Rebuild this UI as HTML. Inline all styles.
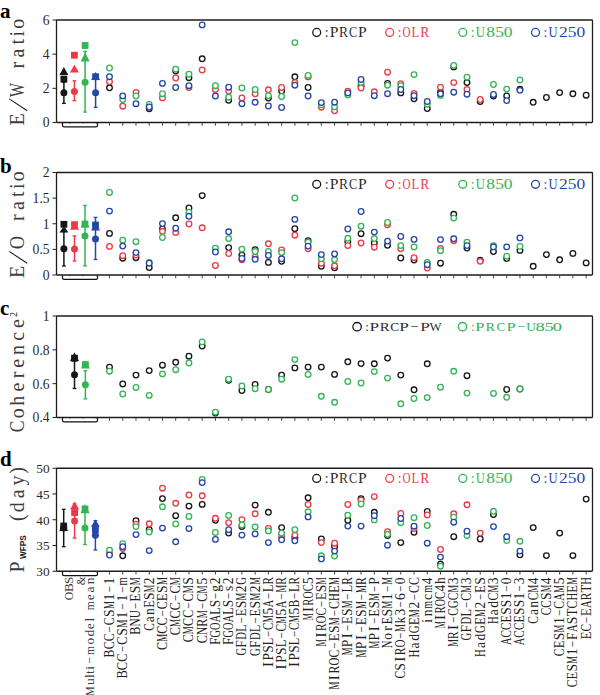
<!DOCTYPE html><html><head><meta charset="utf-8"><style>html,body{margin:0;padding:0;background:#fff;width:600px;height:695px;overflow:hidden}svg{display:block}.s{font-family:"Liberation Serif",serif}.n{font-family:"Liberation Sans",sans-serif}</style></head><body>
<svg width="600" height="695" viewBox="0 0 600 695">
<rect x="56.5" y="20" width="536.0" height="102.5" rx="0.8" fill="none" stroke="#1c1c1c" stroke-width="1.3"/>
<line x1="52.5" y1="122.50" x2="56.5" y2="122.50" stroke="#222" stroke-width="1"/>
<text class="s" x="49.6" y="127.35" font-size="13.6" text-anchor="end" fill="#2a2a2a">0</text>
<line x1="52.5" y1="88.33" x2="56.5" y2="88.33" stroke="#222" stroke-width="1"/>
<text class="s" x="49.6" y="93.18" font-size="13.6" text-anchor="end" fill="#2a2a2a">2</text>
<line x1="52.5" y1="54.17" x2="56.5" y2="54.17" stroke="#222" stroke-width="1"/>
<text class="s" x="49.6" y="59.02" font-size="13.6" text-anchor="end" fill="#2a2a2a">4</text>
<line x1="52.5" y1="20.00" x2="56.5" y2="20.00" stroke="#222" stroke-width="1"/>
<text class="s" x="49.6" y="24.85" font-size="13.6" text-anchor="end" fill="#2a2a2a">6</text>
<line x1="69.78" y1="122.5" x2="69.78" y2="123.7" stroke="#333" stroke-width="0.9"/>
<line x1="83.02" y1="122.5" x2="83.02" y2="123.7" stroke="#333" stroke-width="0.9"/>
<line x1="96.26" y1="122.5" x2="96.26" y2="123.7" stroke="#333" stroke-width="0.9"/>
<line x1="109.50" y1="122.5" x2="109.50" y2="125.8" stroke="#333" stroke-width="0.9"/>
<line x1="122.74" y1="122.5" x2="122.74" y2="125.8" stroke="#333" stroke-width="0.9"/>
<line x1="135.98" y1="122.5" x2="135.98" y2="125.8" stroke="#333" stroke-width="0.9"/>
<line x1="149.22" y1="122.5" x2="149.22" y2="125.8" stroke="#333" stroke-width="0.9"/>
<line x1="162.46" y1="122.5" x2="162.46" y2="125.8" stroke="#333" stroke-width="0.9"/>
<line x1="175.70" y1="122.5" x2="175.70" y2="125.8" stroke="#333" stroke-width="0.9"/>
<line x1="188.94" y1="122.5" x2="188.94" y2="125.8" stroke="#333" stroke-width="0.9"/>
<line x1="202.18" y1="122.5" x2="202.18" y2="125.8" stroke="#333" stroke-width="0.9"/>
<line x1="215.42" y1="122.5" x2="215.42" y2="125.8" stroke="#333" stroke-width="0.9"/>
<line x1="228.66" y1="122.5" x2="228.66" y2="125.8" stroke="#333" stroke-width="0.9"/>
<line x1="241.90" y1="122.5" x2="241.90" y2="125.8" stroke="#333" stroke-width="0.9"/>
<line x1="255.14" y1="122.5" x2="255.14" y2="125.8" stroke="#333" stroke-width="0.9"/>
<line x1="268.38" y1="122.5" x2="268.38" y2="125.8" stroke="#333" stroke-width="0.9"/>
<line x1="281.62" y1="122.5" x2="281.62" y2="125.8" stroke="#333" stroke-width="0.9"/>
<line x1="294.86" y1="122.5" x2="294.86" y2="125.8" stroke="#333" stroke-width="0.9"/>
<line x1="308.10" y1="122.5" x2="308.10" y2="125.8" stroke="#333" stroke-width="0.9"/>
<line x1="321.34" y1="122.5" x2="321.34" y2="125.8" stroke="#333" stroke-width="0.9"/>
<line x1="334.58" y1="122.5" x2="334.58" y2="125.8" stroke="#333" stroke-width="0.9"/>
<line x1="347.82" y1="122.5" x2="347.82" y2="125.8" stroke="#333" stroke-width="0.9"/>
<line x1="361.06" y1="122.5" x2="361.06" y2="125.8" stroke="#333" stroke-width="0.9"/>
<line x1="374.30" y1="122.5" x2="374.30" y2="125.8" stroke="#333" stroke-width="0.9"/>
<line x1="387.54" y1="122.5" x2="387.54" y2="125.8" stroke="#333" stroke-width="0.9"/>
<line x1="400.78" y1="122.5" x2="400.78" y2="125.8" stroke="#333" stroke-width="0.9"/>
<line x1="414.02" y1="122.5" x2="414.02" y2="125.8" stroke="#333" stroke-width="0.9"/>
<line x1="427.26" y1="122.5" x2="427.26" y2="125.8" stroke="#333" stroke-width="0.9"/>
<line x1="440.50" y1="122.5" x2="440.50" y2="125.8" stroke="#333" stroke-width="0.9"/>
<line x1="453.74" y1="122.5" x2="453.74" y2="125.8" stroke="#333" stroke-width="0.9"/>
<line x1="466.98" y1="122.5" x2="466.98" y2="125.8" stroke="#333" stroke-width="0.9"/>
<line x1="480.22" y1="122.5" x2="480.22" y2="125.8" stroke="#333" stroke-width="0.9"/>
<line x1="493.46" y1="122.5" x2="493.46" y2="125.8" stroke="#333" stroke-width="0.9"/>
<line x1="506.70" y1="122.5" x2="506.70" y2="125.8" stroke="#333" stroke-width="0.9"/>
<line x1="519.94" y1="122.5" x2="519.94" y2="125.8" stroke="#333" stroke-width="0.9"/>
<line x1="533.18" y1="122.5" x2="533.18" y2="125.8" stroke="#333" stroke-width="0.9"/>
<line x1="546.42" y1="122.5" x2="546.42" y2="125.8" stroke="#333" stroke-width="0.9"/>
<line x1="559.66" y1="122.5" x2="559.66" y2="125.8" stroke="#333" stroke-width="0.9"/>
<line x1="572.90" y1="122.5" x2="572.90" y2="125.8" stroke="#333" stroke-width="0.9"/>
<line x1="586.14" y1="122.5" x2="586.14" y2="125.8" stroke="#333" stroke-width="0.9"/>
<path d="M62.5 123.0 L62.5 125.5 Q62.5 126.8 64 126.8 L96 126.8 Q97.5 126.8 97.5 125.5 L97.5 123.0" fill="none" stroke="#111" stroke-width="1.2"/>
<rect x="56.5" y="172.5" width="536.0" height="102.5" rx="0.8" fill="none" stroke="#1c1c1c" stroke-width="1.3"/>
<line x1="52.5" y1="275.00" x2="56.5" y2="275.00" stroke="#222" stroke-width="1"/>
<text class="s" x="49.6" y="279.85" font-size="13.6" text-anchor="end" fill="#2a2a2a">0</text>
<line x1="52.5" y1="249.38" x2="56.5" y2="249.38" stroke="#222" stroke-width="1"/>
<text class="s" x="49.6" y="254.22" font-size="13.6" text-anchor="end" fill="#2a2a2a">0.5</text>
<line x1="52.5" y1="223.75" x2="56.5" y2="223.75" stroke="#222" stroke-width="1"/>
<text class="s" x="49.6" y="228.60" font-size="13.6" text-anchor="end" fill="#2a2a2a">1</text>
<line x1="52.5" y1="198.12" x2="56.5" y2="198.12" stroke="#222" stroke-width="1"/>
<text class="s" x="49.6" y="202.97" font-size="13.6" text-anchor="end" fill="#2a2a2a">1.5</text>
<line x1="52.5" y1="172.50" x2="56.5" y2="172.50" stroke="#222" stroke-width="1"/>
<text class="s" x="49.6" y="177.35" font-size="13.6" text-anchor="end" fill="#2a2a2a">2</text>
<line x1="69.78" y1="275" x2="69.78" y2="276.2" stroke="#333" stroke-width="0.9"/>
<line x1="83.02" y1="275" x2="83.02" y2="276.2" stroke="#333" stroke-width="0.9"/>
<line x1="96.26" y1="275" x2="96.26" y2="276.2" stroke="#333" stroke-width="0.9"/>
<line x1="109.50" y1="275" x2="109.50" y2="278.3" stroke="#333" stroke-width="0.9"/>
<line x1="122.74" y1="275" x2="122.74" y2="278.3" stroke="#333" stroke-width="0.9"/>
<line x1="135.98" y1="275" x2="135.98" y2="278.3" stroke="#333" stroke-width="0.9"/>
<line x1="149.22" y1="275" x2="149.22" y2="278.3" stroke="#333" stroke-width="0.9"/>
<line x1="162.46" y1="275" x2="162.46" y2="278.3" stroke="#333" stroke-width="0.9"/>
<line x1="175.70" y1="275" x2="175.70" y2="278.3" stroke="#333" stroke-width="0.9"/>
<line x1="188.94" y1="275" x2="188.94" y2="278.3" stroke="#333" stroke-width="0.9"/>
<line x1="202.18" y1="275" x2="202.18" y2="278.3" stroke="#333" stroke-width="0.9"/>
<line x1="215.42" y1="275" x2="215.42" y2="278.3" stroke="#333" stroke-width="0.9"/>
<line x1="228.66" y1="275" x2="228.66" y2="278.3" stroke="#333" stroke-width="0.9"/>
<line x1="241.90" y1="275" x2="241.90" y2="278.3" stroke="#333" stroke-width="0.9"/>
<line x1="255.14" y1="275" x2="255.14" y2="278.3" stroke="#333" stroke-width="0.9"/>
<line x1="268.38" y1="275" x2="268.38" y2="278.3" stroke="#333" stroke-width="0.9"/>
<line x1="281.62" y1="275" x2="281.62" y2="278.3" stroke="#333" stroke-width="0.9"/>
<line x1="294.86" y1="275" x2="294.86" y2="278.3" stroke="#333" stroke-width="0.9"/>
<line x1="308.10" y1="275" x2="308.10" y2="278.3" stroke="#333" stroke-width="0.9"/>
<line x1="321.34" y1="275" x2="321.34" y2="278.3" stroke="#333" stroke-width="0.9"/>
<line x1="334.58" y1="275" x2="334.58" y2="278.3" stroke="#333" stroke-width="0.9"/>
<line x1="347.82" y1="275" x2="347.82" y2="278.3" stroke="#333" stroke-width="0.9"/>
<line x1="361.06" y1="275" x2="361.06" y2="278.3" stroke="#333" stroke-width="0.9"/>
<line x1="374.30" y1="275" x2="374.30" y2="278.3" stroke="#333" stroke-width="0.9"/>
<line x1="387.54" y1="275" x2="387.54" y2="278.3" stroke="#333" stroke-width="0.9"/>
<line x1="400.78" y1="275" x2="400.78" y2="278.3" stroke="#333" stroke-width="0.9"/>
<line x1="414.02" y1="275" x2="414.02" y2="278.3" stroke="#333" stroke-width="0.9"/>
<line x1="427.26" y1="275" x2="427.26" y2="278.3" stroke="#333" stroke-width="0.9"/>
<line x1="440.50" y1="275" x2="440.50" y2="278.3" stroke="#333" stroke-width="0.9"/>
<line x1="453.74" y1="275" x2="453.74" y2="278.3" stroke="#333" stroke-width="0.9"/>
<line x1="466.98" y1="275" x2="466.98" y2="278.3" stroke="#333" stroke-width="0.9"/>
<line x1="480.22" y1="275" x2="480.22" y2="278.3" stroke="#333" stroke-width="0.9"/>
<line x1="493.46" y1="275" x2="493.46" y2="278.3" stroke="#333" stroke-width="0.9"/>
<line x1="506.70" y1="275" x2="506.70" y2="278.3" stroke="#333" stroke-width="0.9"/>
<line x1="519.94" y1="275" x2="519.94" y2="278.3" stroke="#333" stroke-width="0.9"/>
<line x1="533.18" y1="275" x2="533.18" y2="278.3" stroke="#333" stroke-width="0.9"/>
<line x1="546.42" y1="275" x2="546.42" y2="278.3" stroke="#333" stroke-width="0.9"/>
<line x1="559.66" y1="275" x2="559.66" y2="278.3" stroke="#333" stroke-width="0.9"/>
<line x1="572.90" y1="275" x2="572.90" y2="278.3" stroke="#333" stroke-width="0.9"/>
<line x1="586.14" y1="275" x2="586.14" y2="278.3" stroke="#333" stroke-width="0.9"/>
<path d="M62.5 275.5 L62.5 278 Q62.5 279.3 64 279.3 L96 279.3 Q97.5 279.3 97.5 278 L97.5 275.5" fill="none" stroke="#111" stroke-width="1.2"/>
<rect x="56.5" y="316" width="536.0" height="101.5" rx="0.8" fill="none" stroke="#1c1c1c" stroke-width="1.3"/>
<line x1="52.5" y1="417.50" x2="56.5" y2="417.50" stroke="#222" stroke-width="1"/>
<text class="s" x="49.6" y="422.35" font-size="13.6" text-anchor="end" fill="#2a2a2a">0.4</text>
<line x1="52.5" y1="383.67" x2="56.5" y2="383.67" stroke="#222" stroke-width="1"/>
<text class="s" x="49.6" y="388.52" font-size="13.6" text-anchor="end" fill="#2a2a2a">0.6</text>
<line x1="52.5" y1="349.83" x2="56.5" y2="349.83" stroke="#222" stroke-width="1"/>
<text class="s" x="49.6" y="354.68" font-size="13.6" text-anchor="end" fill="#2a2a2a">0.8</text>
<line x1="52.5" y1="316.00" x2="56.5" y2="316.00" stroke="#222" stroke-width="1"/>
<text class="s" x="49.6" y="320.85" font-size="13.6" text-anchor="end" fill="#2a2a2a">1</text>
<line x1="69.78" y1="417.5" x2="69.78" y2="418.7" stroke="#333" stroke-width="0.9"/>
<line x1="83.02" y1="417.5" x2="83.02" y2="418.7" stroke="#333" stroke-width="0.9"/>
<line x1="96.26" y1="417.5" x2="96.26" y2="418.7" stroke="#333" stroke-width="0.9"/>
<line x1="109.50" y1="417.5" x2="109.50" y2="420.8" stroke="#333" stroke-width="0.9"/>
<line x1="122.74" y1="417.5" x2="122.74" y2="420.8" stroke="#333" stroke-width="0.9"/>
<line x1="135.98" y1="417.5" x2="135.98" y2="420.8" stroke="#333" stroke-width="0.9"/>
<line x1="149.22" y1="417.5" x2="149.22" y2="420.8" stroke="#333" stroke-width="0.9"/>
<line x1="162.46" y1="417.5" x2="162.46" y2="420.8" stroke="#333" stroke-width="0.9"/>
<line x1="175.70" y1="417.5" x2="175.70" y2="420.8" stroke="#333" stroke-width="0.9"/>
<line x1="188.94" y1="417.5" x2="188.94" y2="420.8" stroke="#333" stroke-width="0.9"/>
<line x1="202.18" y1="417.5" x2="202.18" y2="420.8" stroke="#333" stroke-width="0.9"/>
<line x1="215.42" y1="417.5" x2="215.42" y2="420.8" stroke="#333" stroke-width="0.9"/>
<line x1="228.66" y1="417.5" x2="228.66" y2="420.8" stroke="#333" stroke-width="0.9"/>
<line x1="241.90" y1="417.5" x2="241.90" y2="420.8" stroke="#333" stroke-width="0.9"/>
<line x1="255.14" y1="417.5" x2="255.14" y2="420.8" stroke="#333" stroke-width="0.9"/>
<line x1="268.38" y1="417.5" x2="268.38" y2="420.8" stroke="#333" stroke-width="0.9"/>
<line x1="281.62" y1="417.5" x2="281.62" y2="420.8" stroke="#333" stroke-width="0.9"/>
<line x1="294.86" y1="417.5" x2="294.86" y2="420.8" stroke="#333" stroke-width="0.9"/>
<line x1="308.10" y1="417.5" x2="308.10" y2="420.8" stroke="#333" stroke-width="0.9"/>
<line x1="321.34" y1="417.5" x2="321.34" y2="420.8" stroke="#333" stroke-width="0.9"/>
<line x1="334.58" y1="417.5" x2="334.58" y2="420.8" stroke="#333" stroke-width="0.9"/>
<line x1="347.82" y1="417.5" x2="347.82" y2="420.8" stroke="#333" stroke-width="0.9"/>
<line x1="361.06" y1="417.5" x2="361.06" y2="420.8" stroke="#333" stroke-width="0.9"/>
<line x1="374.30" y1="417.5" x2="374.30" y2="420.8" stroke="#333" stroke-width="0.9"/>
<line x1="387.54" y1="417.5" x2="387.54" y2="420.8" stroke="#333" stroke-width="0.9"/>
<line x1="400.78" y1="417.5" x2="400.78" y2="420.8" stroke="#333" stroke-width="0.9"/>
<line x1="414.02" y1="417.5" x2="414.02" y2="420.8" stroke="#333" stroke-width="0.9"/>
<line x1="427.26" y1="417.5" x2="427.26" y2="420.8" stroke="#333" stroke-width="0.9"/>
<line x1="440.50" y1="417.5" x2="440.50" y2="420.8" stroke="#333" stroke-width="0.9"/>
<line x1="453.74" y1="417.5" x2="453.74" y2="420.8" stroke="#333" stroke-width="0.9"/>
<line x1="466.98" y1="417.5" x2="466.98" y2="420.8" stroke="#333" stroke-width="0.9"/>
<line x1="480.22" y1="417.5" x2="480.22" y2="420.8" stroke="#333" stroke-width="0.9"/>
<line x1="493.46" y1="417.5" x2="493.46" y2="420.8" stroke="#333" stroke-width="0.9"/>
<line x1="506.70" y1="417.5" x2="506.70" y2="420.8" stroke="#333" stroke-width="0.9"/>
<line x1="519.94" y1="417.5" x2="519.94" y2="420.8" stroke="#333" stroke-width="0.9"/>
<line x1="533.18" y1="417.5" x2="533.18" y2="420.8" stroke="#333" stroke-width="0.9"/>
<line x1="546.42" y1="417.5" x2="546.42" y2="420.8" stroke="#333" stroke-width="0.9"/>
<line x1="559.66" y1="417.5" x2="559.66" y2="420.8" stroke="#333" stroke-width="0.9"/>
<line x1="572.90" y1="417.5" x2="572.90" y2="420.8" stroke="#333" stroke-width="0.9"/>
<line x1="586.14" y1="417.5" x2="586.14" y2="420.8" stroke="#333" stroke-width="0.9"/>
<path d="M62.5 418.0 L62.5 420.5 Q62.5 421.8 64 421.8 L96 421.8 Q97.5 421.8 97.5 420.5 L97.5 418.0" fill="none" stroke="#111" stroke-width="1.2"/>
<rect x="56.5" y="468.25" width="536.0" height="103.0" rx="0.8" fill="none" stroke="#1c1c1c" stroke-width="1.3"/>
<line x1="52.5" y1="571.25" x2="56.5" y2="571.25" stroke="#222" stroke-width="1"/>
<text class="s" x="49.6" y="576.10" font-size="13.3" text-anchor="end" fill="#2a2a2a">30</text>
<line x1="52.5" y1="545.50" x2="56.5" y2="545.50" stroke="#222" stroke-width="1"/>
<text class="s" x="49.6" y="550.35" font-size="13.3" text-anchor="end" fill="#2a2a2a">35</text>
<line x1="52.5" y1="519.75" x2="56.5" y2="519.75" stroke="#222" stroke-width="1"/>
<text class="s" x="49.6" y="524.60" font-size="13.3" text-anchor="end" fill="#2a2a2a">40</text>
<line x1="52.5" y1="494.00" x2="56.5" y2="494.00" stroke="#222" stroke-width="1"/>
<text class="s" x="49.6" y="498.85" font-size="13.3" text-anchor="end" fill="#2a2a2a">45</text>
<line x1="52.5" y1="468.25" x2="56.5" y2="468.25" stroke="#222" stroke-width="1"/>
<text class="s" x="49.6" y="473.10" font-size="13.3" text-anchor="end" fill="#2a2a2a">50</text>
<line x1="69.78" y1="571.25" x2="69.78" y2="572.45" stroke="#333" stroke-width="0.9"/>
<line x1="83.02" y1="571.25" x2="83.02" y2="572.45" stroke="#333" stroke-width="0.9"/>
<line x1="96.26" y1="571.25" x2="96.26" y2="572.45" stroke="#333" stroke-width="0.9"/>
<line x1="109.50" y1="571.25" x2="109.50" y2="574.55" stroke="#333" stroke-width="0.9"/>
<line x1="122.74" y1="571.25" x2="122.74" y2="574.55" stroke="#333" stroke-width="0.9"/>
<line x1="135.98" y1="571.25" x2="135.98" y2="574.55" stroke="#333" stroke-width="0.9"/>
<line x1="149.22" y1="571.25" x2="149.22" y2="574.55" stroke="#333" stroke-width="0.9"/>
<line x1="162.46" y1="571.25" x2="162.46" y2="574.55" stroke="#333" stroke-width="0.9"/>
<line x1="175.70" y1="571.25" x2="175.70" y2="574.55" stroke="#333" stroke-width="0.9"/>
<line x1="188.94" y1="571.25" x2="188.94" y2="574.55" stroke="#333" stroke-width="0.9"/>
<line x1="202.18" y1="571.25" x2="202.18" y2="574.55" stroke="#333" stroke-width="0.9"/>
<line x1="215.42" y1="571.25" x2="215.42" y2="574.55" stroke="#333" stroke-width="0.9"/>
<line x1="228.66" y1="571.25" x2="228.66" y2="574.55" stroke="#333" stroke-width="0.9"/>
<line x1="241.90" y1="571.25" x2="241.90" y2="574.55" stroke="#333" stroke-width="0.9"/>
<line x1="255.14" y1="571.25" x2="255.14" y2="574.55" stroke="#333" stroke-width="0.9"/>
<line x1="268.38" y1="571.25" x2="268.38" y2="574.55" stroke="#333" stroke-width="0.9"/>
<line x1="281.62" y1="571.25" x2="281.62" y2="574.55" stroke="#333" stroke-width="0.9"/>
<line x1="294.86" y1="571.25" x2="294.86" y2="574.55" stroke="#333" stroke-width="0.9"/>
<line x1="308.10" y1="571.25" x2="308.10" y2="574.55" stroke="#333" stroke-width="0.9"/>
<line x1="321.34" y1="571.25" x2="321.34" y2="574.55" stroke="#333" stroke-width="0.9"/>
<line x1="334.58" y1="571.25" x2="334.58" y2="574.55" stroke="#333" stroke-width="0.9"/>
<line x1="347.82" y1="571.25" x2="347.82" y2="574.55" stroke="#333" stroke-width="0.9"/>
<line x1="361.06" y1="571.25" x2="361.06" y2="574.55" stroke="#333" stroke-width="0.9"/>
<line x1="374.30" y1="571.25" x2="374.30" y2="574.55" stroke="#333" stroke-width="0.9"/>
<line x1="387.54" y1="571.25" x2="387.54" y2="574.55" stroke="#333" stroke-width="0.9"/>
<line x1="400.78" y1="571.25" x2="400.78" y2="574.55" stroke="#333" stroke-width="0.9"/>
<line x1="414.02" y1="571.25" x2="414.02" y2="574.55" stroke="#333" stroke-width="0.9"/>
<line x1="427.26" y1="571.25" x2="427.26" y2="574.55" stroke="#333" stroke-width="0.9"/>
<line x1="440.50" y1="571.25" x2="440.50" y2="574.55" stroke="#333" stroke-width="0.9"/>
<line x1="453.74" y1="571.25" x2="453.74" y2="574.55" stroke="#333" stroke-width="0.9"/>
<line x1="466.98" y1="571.25" x2="466.98" y2="574.55" stroke="#333" stroke-width="0.9"/>
<line x1="480.22" y1="571.25" x2="480.22" y2="574.55" stroke="#333" stroke-width="0.9"/>
<line x1="493.46" y1="571.25" x2="493.46" y2="574.55" stroke="#333" stroke-width="0.9"/>
<line x1="506.70" y1="571.25" x2="506.70" y2="574.55" stroke="#333" stroke-width="0.9"/>
<line x1="519.94" y1="571.25" x2="519.94" y2="574.55" stroke="#333" stroke-width="0.9"/>
<line x1="533.18" y1="571.25" x2="533.18" y2="574.55" stroke="#333" stroke-width="0.9"/>
<line x1="546.42" y1="571.25" x2="546.42" y2="574.55" stroke="#333" stroke-width="0.9"/>
<line x1="559.66" y1="571.25" x2="559.66" y2="574.55" stroke="#333" stroke-width="0.9"/>
<line x1="572.90" y1="571.25" x2="572.90" y2="574.55" stroke="#333" stroke-width="0.9"/>
<line x1="586.14" y1="571.25" x2="586.14" y2="574.55" stroke="#333" stroke-width="0.9"/>
<path d="M62.5 571.75 L62.5 574.25 Q62.5 575.55 64 575.55 L96 575.55 Q97.5 575.55 97.5 574.25 L97.5 571.75" fill="none" stroke="#111" stroke-width="1.2"/>
<text class="s" x="0" y="17.8" font-size="21" font-weight="bold" fill="#000">a</text>
<text class="s" x="0" y="173" font-size="21" font-weight="bold" fill="#000">b</text>
<text class="s" x="0" y="314.6" font-size="21" font-weight="bold" fill="#000">c</text>
<text class="s" x="0" y="466" font-size="21" font-weight="bold" fill="#000">d</text>
<g class="s" font-size="20" fill="#3c3c3c"><text transform="translate(24.40,119.30) rotate(-90)" text-anchor="middle">E</text><text transform="translate(24.40,90.10) rotate(-90) scale(0.740,1)" text-anchor="middle">W</text><text transform="translate(24.40,65.20) rotate(-90)" text-anchor="middle">r</text><text transform="translate(24.40,53.00) rotate(-90)" text-anchor="middle">a</text><text transform="translate(24.40,41.70) rotate(-90)" text-anchor="middle">t</text><text transform="translate(24.40,33.60) rotate(-90)" text-anchor="middle">i</text><text transform="translate(24.40,23.70) rotate(-90)" text-anchor="middle">o</text></g>
<line x1="9.2" y1="98.9" x2="27.2" y2="110.8" stroke="#1a1a1a" stroke-width="1.05"/>
<line x1="9.2" y1="251.4" x2="27.2" y2="263.3" stroke="#1a1a1a" stroke-width="1.05"/>
<g class="s" font-size="20" fill="#3c3c3c"><text transform="translate(24.40,271.80) rotate(-90)" text-anchor="middle">E</text><text transform="translate(24.40,242.60) rotate(-90) scale(0.920,1)" text-anchor="middle">O</text><text transform="translate(24.40,217.70) rotate(-90)" text-anchor="middle">r</text><text transform="translate(24.40,205.50) rotate(-90)" text-anchor="middle">a</text><text transform="translate(24.40,194.20) rotate(-90)" text-anchor="middle">t</text><text transform="translate(24.40,186.10) rotate(-90)" text-anchor="middle">i</text><text transform="translate(24.40,176.20) rotate(-90)" text-anchor="middle">o</text></g>
<g class="s" font-size="20" fill="#3c3c3c"><text transform="translate(24.40,426.50) rotate(-90) scale(0.880,1)" text-anchor="middle">C</text><text transform="translate(24.40,413.30) rotate(-90)" text-anchor="middle">o</text><text transform="translate(24.40,400.80) rotate(-90)" text-anchor="middle">h</text><text transform="translate(24.40,387.00) rotate(-90)" text-anchor="middle">e</text><text transform="translate(24.40,374.80) rotate(-90)" text-anchor="middle">r</text><text transform="translate(24.40,363.30) rotate(-90)" text-anchor="middle">e</text><text transform="translate(24.40,349.90) rotate(-90)" text-anchor="middle">n</text><text transform="translate(24.40,336.40) rotate(-90)" text-anchor="middle">c</text><text transform="translate(24.40,323.50) rotate(-90)" text-anchor="middle">e</text></g>
<text class="s" transform="translate(16.8,314.6) rotate(-90)" font-size="10" text-anchor="middle" fill="#1a1a1a">2</text>
<g class="s" font-size="20" fill="#3c3c3c"><text transform="translate(24.40,517.60) rotate(-90)" text-anchor="middle">(</text><text transform="translate(24.40,507.30) rotate(-90)" text-anchor="middle">d</text><text transform="translate(24.40,493.70) rotate(-90)" text-anchor="middle">a</text><text transform="translate(24.40,480.60) rotate(-90)" text-anchor="middle">y</text><text transform="translate(24.40,470.50) rotate(-90)" text-anchor="middle">)</text></g>
<g class="s" font-size="20" fill="#3c3c3c"><text transform="translate(24.40,567.00) rotate(-90)" text-anchor="middle">P</text></g>
<text class="n" transform="translate(26.4,559) rotate(-90)" font-size="9" font-weight="bold" fill="#1a1a1a" textLength="23.7" lengthAdjust="spacingAndGlyphs">WFPS</text>
<circle cx="316.7" cy="32.4" r="3.95" fill="none" stroke="#161616" stroke-width="1.3"/>
<g class="s" font-size="13.6" fill="#2e2e2e"><text x="326.70" y="36.70" text-anchor="middle">:</text><text transform="translate(334.00,36.70) scale(1.150,1)" text-anchor="middle">P</text><text x="343.50" y="36.70" text-anchor="middle">R</text><text transform="translate(353.10,36.70) scale(0.900,1)" text-anchor="middle">C</text><text transform="translate(362.30,36.70) scale(1.150,1)" text-anchor="middle">P</text></g>
<circle cx="389.7" cy="32.4" r="3.95" fill="none" stroke="#eb3a45" stroke-width="1.3"/>
<g class="s" font-size="13.6" fill="#eb3a45"><text x="399.70" y="36.70" text-anchor="middle">:</text><text transform="translate(406.50,36.70) scale(0.820,1)" text-anchor="middle">O</text><text transform="translate(415.30,36.70) scale(0.920,1)" text-anchor="middle">L</text><text x="424.90" y="36.70" text-anchor="middle">R</text></g>
<circle cx="462.8" cy="32.4" r="3.95" fill="none" stroke="#34b454" stroke-width="1.3"/>
<g class="s" font-size="13.6" fill="#34b454"><text x="472.70" y="36.70" text-anchor="middle">:</text><text transform="translate(480.40,36.70) scale(0.930,1)" text-anchor="middle">U</text><text transform="translate(490.60,36.70) scale(1.280,1)" text-anchor="middle">8</text><text transform="translate(499.50,36.70) scale(1.280,1)" text-anchor="middle">5</text><text transform="translate(508.10,36.70) scale(1.280,1)" text-anchor="middle">0</text></g>
<circle cx="535.5" cy="32.4" r="3.95" fill="none" stroke="#2547a6" stroke-width="1.3"/>
<g class="s" font-size="13.6" fill="#2547a6"><text x="545.40" y="36.70" text-anchor="middle">:</text><text transform="translate(553.10,36.70) scale(0.930,1)" text-anchor="middle">U</text><text transform="translate(563.30,36.70) scale(1.280,1)" text-anchor="middle">2</text><text transform="translate(572.20,36.70) scale(1.280,1)" text-anchor="middle">5</text><text transform="translate(580.80,36.70) scale(1.280,1)" text-anchor="middle">0</text></g>
<circle cx="316.7" cy="184.3" r="3.95" fill="none" stroke="#161616" stroke-width="1.3"/>
<g class="s" font-size="13.6" fill="#2e2e2e"><text x="326.70" y="188.60" text-anchor="middle">:</text><text transform="translate(334.00,188.60) scale(1.150,1)" text-anchor="middle">P</text><text x="343.50" y="188.60" text-anchor="middle">R</text><text transform="translate(353.10,188.60) scale(0.900,1)" text-anchor="middle">C</text><text transform="translate(362.30,188.60) scale(1.150,1)" text-anchor="middle">P</text></g>
<circle cx="389.7" cy="184.3" r="3.95" fill="none" stroke="#eb3a45" stroke-width="1.3"/>
<g class="s" font-size="13.6" fill="#eb3a45"><text x="399.70" y="188.60" text-anchor="middle">:</text><text transform="translate(406.50,188.60) scale(0.820,1)" text-anchor="middle">O</text><text transform="translate(415.30,188.60) scale(0.920,1)" text-anchor="middle">L</text><text x="424.90" y="188.60" text-anchor="middle">R</text></g>
<circle cx="462.8" cy="184.3" r="3.95" fill="none" stroke="#34b454" stroke-width="1.3"/>
<g class="s" font-size="13.6" fill="#34b454"><text x="472.70" y="188.60" text-anchor="middle">:</text><text transform="translate(480.40,188.60) scale(0.930,1)" text-anchor="middle">U</text><text transform="translate(490.60,188.60) scale(1.280,1)" text-anchor="middle">8</text><text transform="translate(499.50,188.60) scale(1.280,1)" text-anchor="middle">5</text><text transform="translate(508.10,188.60) scale(1.280,1)" text-anchor="middle">0</text></g>
<circle cx="535.5" cy="184.3" r="3.95" fill="none" stroke="#2547a6" stroke-width="1.3"/>
<g class="s" font-size="13.6" fill="#2547a6"><text x="545.40" y="188.60" text-anchor="middle">:</text><text transform="translate(553.10,188.60) scale(0.930,1)" text-anchor="middle">U</text><text transform="translate(563.30,188.60) scale(1.280,1)" text-anchor="middle">2</text><text transform="translate(572.20,188.60) scale(1.280,1)" text-anchor="middle">5</text><text transform="translate(580.80,188.60) scale(1.280,1)" text-anchor="middle">0</text></g>
<circle cx="316.7" cy="478.4" r="3.95" fill="none" stroke="#161616" stroke-width="1.3"/>
<g class="s" font-size="13.6" fill="#2e2e2e"><text x="326.70" y="482.70" text-anchor="middle">:</text><text transform="translate(334.00,482.70) scale(1.150,1)" text-anchor="middle">P</text><text x="343.50" y="482.70" text-anchor="middle">R</text><text transform="translate(353.10,482.70) scale(0.900,1)" text-anchor="middle">C</text><text transform="translate(362.30,482.70) scale(1.150,1)" text-anchor="middle">P</text></g>
<circle cx="389.7" cy="478.4" r="3.95" fill="none" stroke="#eb3a45" stroke-width="1.3"/>
<g class="s" font-size="13.6" fill="#eb3a45"><text x="399.70" y="482.70" text-anchor="middle">:</text><text transform="translate(406.50,482.70) scale(0.820,1)" text-anchor="middle">O</text><text transform="translate(415.30,482.70) scale(0.920,1)" text-anchor="middle">L</text><text x="424.90" y="482.70" text-anchor="middle">R</text></g>
<circle cx="462.8" cy="478.4" r="3.95" fill="none" stroke="#34b454" stroke-width="1.3"/>
<g class="s" font-size="13.6" fill="#34b454"><text x="472.70" y="482.70" text-anchor="middle">:</text><text transform="translate(480.40,482.70) scale(0.930,1)" text-anchor="middle">U</text><text transform="translate(490.60,482.70) scale(1.280,1)" text-anchor="middle">8</text><text transform="translate(499.50,482.70) scale(1.280,1)" text-anchor="middle">5</text><text transform="translate(508.10,482.70) scale(1.280,1)" text-anchor="middle">0</text></g>
<circle cx="535.5" cy="478.4" r="3.95" fill="none" stroke="#2547a6" stroke-width="1.3"/>
<g class="s" font-size="13.6" fill="#2547a6"><text x="545.40" y="482.70" text-anchor="middle">:</text><text transform="translate(553.10,482.70) scale(0.930,1)" text-anchor="middle">U</text><text transform="translate(563.30,482.70) scale(1.280,1)" text-anchor="middle">2</text><text transform="translate(572.20,482.70) scale(1.280,1)" text-anchor="middle">5</text><text transform="translate(580.80,482.70) scale(1.280,1)" text-anchor="middle">0</text></g>
<circle cx="357.1" cy="326.7" r="4.2" fill="none" stroke="#161616" stroke-width="1.3"/>
<g class="s" font-size="13.4" fill="#2e2e2e"><text x="367.20" y="331.00" text-anchor="middle">:</text><text transform="translate(374.30,331.00) scale(1.288,1)" text-anchor="middle">P</text><text transform="translate(384.70,331.00) scale(1.120,1)" text-anchor="middle">R</text><text transform="translate(394.70,331.00) scale(1.008,1)" text-anchor="middle">C</text><text transform="translate(404.10,331.00) scale(1.288,1)" text-anchor="middle">P</text><text transform="translate(414.60,331.00) scale(1.064,1)" text-anchor="middle">−</text><text transform="translate(425.00,331.00) scale(1.288,1)" text-anchor="middle">P</text><text transform="translate(435.40,331.00) scale(0.952,1)" text-anchor="middle">W</text></g>
<circle cx="462.5" cy="326.7" r="4.2" fill="none" stroke="#34b454" stroke-width="1.3"/>
<g class="s" font-size="13.4" fill="#34b454"><text x="472.80" y="331.00" text-anchor="middle">:</text><text transform="translate(480.00,331.00) scale(1.242,1)" text-anchor="middle">P</text><text transform="translate(490.40,331.00) scale(1.080,1)" text-anchor="middle">R</text><text transform="translate(500.80,331.00) scale(0.972,1)" text-anchor="middle">C</text><text transform="translate(511.20,331.00) scale(1.242,1)" text-anchor="middle">P</text><text transform="translate(521.40,331.00) scale(1.026,1)" text-anchor="middle">−</text><text transform="translate(531.00,331.00) scale(1.004,1)" text-anchor="middle">U</text><text transform="translate(540.00,331.00) scale(1.382,1)" text-anchor="middle">8</text><text transform="translate(549.00,331.00) scale(1.382,1)" text-anchor="middle">5</text><text transform="translate(557.40,331.00) scale(1.382,1)" text-anchor="middle">0</text></g>
<g class="s" font-size="13.6" fill="#222" ><text transform="translate(114.00,653.48) rotate(-90) scale(0.870,1)" text-anchor="middle">B</text><text transform="translate(114.00,645.42) rotate(-90) scale(0.870,1)" text-anchor="middle">C</text><text transform="translate(114.00,637.38) rotate(-90) scale(0.870,1)" text-anchor="middle">C</text><text transform="translate(114.00,629.33) rotate(-90) scale(0.800,1)" text-anchor="middle">−</text><text transform="translate(114.00,621.27) rotate(-90) scale(0.870,1)" text-anchor="middle">C</text><text transform="translate(114.00,613.23) rotate(-90)" text-anchor="middle">S</text><text transform="translate(114.00,605.17) rotate(-90) scale(0.652,1)" text-anchor="middle">M</text><text transform="translate(114.00,597.12) rotate(-90)" text-anchor="middle">1</text><text transform="translate(114.00,589.08) rotate(-90) scale(0.800,1)" text-anchor="middle">−</text><text transform="translate(114.00,581.02) rotate(-90)" text-anchor="middle">1</text></g>
<g class="s" font-size="13.6" fill="#222" ><text transform="translate(127.24,674.46) rotate(-90) scale(0.916,1)" text-anchor="middle">B</text><text transform="translate(127.24,665.99) rotate(-90) scale(0.916,1)" text-anchor="middle">C</text><text transform="translate(127.24,657.51) rotate(-90) scale(0.916,1)" text-anchor="middle">C</text><text transform="translate(127.24,649.04) rotate(-90) scale(0.800,1)" text-anchor="middle">−</text><text transform="translate(127.24,640.56) rotate(-90) scale(0.916,1)" text-anchor="middle">C</text><text transform="translate(127.24,632.09) rotate(-90)" text-anchor="middle">S</text><text transform="translate(127.24,623.61) rotate(-90) scale(0.687,1)" text-anchor="middle">M</text><text transform="translate(127.24,615.14) rotate(-90)" text-anchor="middle">1</text><text transform="translate(127.24,606.66) rotate(-90) scale(0.800,1)" text-anchor="middle">−</text><text transform="translate(127.24,598.19) rotate(-90)" text-anchor="middle">1</text><text transform="translate(127.24,589.71) rotate(-90) scale(0.800,1)" text-anchor="middle">−</text><text transform="translate(127.24,581.24) rotate(-90) scale(0.785,1)" text-anchor="middle">m</text></g>
<g class="s" font-size="13.6" fill="#222" ><text transform="translate(140.48,630.67) rotate(-90) scale(0.892,1)" text-anchor="middle">B</text><text transform="translate(140.48,622.41) rotate(-90) scale(0.824,1)" text-anchor="middle">N</text><text transform="translate(140.48,614.16) rotate(-90) scale(0.824,1)" text-anchor="middle">U</text><text transform="translate(140.48,605.90) rotate(-90) scale(0.800,1)" text-anchor="middle">−</text><text transform="translate(140.48,597.64) rotate(-90) scale(0.974,1)" text-anchor="middle">E</text><text transform="translate(140.48,589.39) rotate(-90)" text-anchor="middle">S</text><text transform="translate(140.48,581.13) rotate(-90) scale(0.669,1)" text-anchor="middle">M</text></g>
<g class="s" font-size="13.6" fill="#222" ><text transform="translate(153.72,627.05) rotate(-90) scale(0.832,1)" text-anchor="middle">C</text><text transform="translate(153.72,619.35) rotate(-90)" text-anchor="middle">a</text><text transform="translate(153.72,611.65) rotate(-90)" text-anchor="middle">n</text><text transform="translate(153.72,603.95) rotate(-90) scale(0.908,1)" text-anchor="middle">E</text><text transform="translate(153.72,596.25) rotate(-90) scale(0.998,1)" text-anchor="middle">S</text><text transform="translate(153.72,588.55) rotate(-90) scale(0.624,1)" text-anchor="middle">M</text><text transform="translate(153.72,580.85) rotate(-90)" text-anchor="middle">2</text></g>
<g class="s" font-size="13.6" fill="#222" ><text transform="translate(166.96,645.94) rotate(-90) scale(0.876,1)" text-anchor="middle">C</text><text transform="translate(166.96,637.83) rotate(-90) scale(0.657,1)" text-anchor="middle">M</text><text transform="translate(166.96,629.72) rotate(-90) scale(0.876,1)" text-anchor="middle">C</text><text transform="translate(166.96,621.61) rotate(-90) scale(0.876,1)" text-anchor="middle">C</text><text transform="translate(166.96,613.50) rotate(-90) scale(0.800,1)" text-anchor="middle">−</text><text transform="translate(166.96,605.39) rotate(-90) scale(0.876,1)" text-anchor="middle">C</text><text transform="translate(166.96,597.28) rotate(-90) scale(0.957,1)" text-anchor="middle">E</text><text transform="translate(166.96,589.17) rotate(-90)" text-anchor="middle">S</text><text transform="translate(166.96,581.06) rotate(-90) scale(0.657,1)" text-anchor="middle">M</text></g>
<g class="s" font-size="13.6" fill="#222" ><text transform="translate(180.20,631.14) rotate(-90) scale(0.900,1)" text-anchor="middle">C</text><text transform="translate(180.20,622.81) rotate(-90) scale(0.675,1)" text-anchor="middle">M</text><text transform="translate(180.20,614.48) rotate(-90) scale(0.900,1)" text-anchor="middle">C</text><text transform="translate(180.20,606.15) rotate(-90) scale(0.900,1)" text-anchor="middle">C</text><text transform="translate(180.20,597.82) rotate(-90) scale(0.800,1)" text-anchor="middle">−</text><text transform="translate(180.20,589.49) rotate(-90) scale(0.900,1)" text-anchor="middle">C</text><text transform="translate(180.20,581.16) rotate(-90) scale(0.675,1)" text-anchor="middle">M</text></g>
<g class="s" font-size="13.6" fill="#222" ><text transform="translate(193.44,638.31) rotate(-90) scale(0.883,1)" text-anchor="middle">C</text><text transform="translate(193.44,630.14) rotate(-90) scale(0.663,1)" text-anchor="middle">M</text><text transform="translate(193.44,621.96) rotate(-90) scale(0.883,1)" text-anchor="middle">C</text><text transform="translate(193.44,613.79) rotate(-90) scale(0.883,1)" text-anchor="middle">C</text><text transform="translate(193.44,605.61) rotate(-90) scale(0.800,1)" text-anchor="middle">−</text><text transform="translate(193.44,597.44) rotate(-90) scale(0.883,1)" text-anchor="middle">C</text><text transform="translate(193.44,589.26) rotate(-90) scale(0.663,1)" text-anchor="middle">M</text><text transform="translate(193.44,581.09) rotate(-90)" text-anchor="middle">S</text></g>
<g class="s" font-size="13.6" fill="#222" ><text transform="translate(206.68,639.16) rotate(-90) scale(0.895,1)" text-anchor="middle">C</text><text transform="translate(206.68,630.87) rotate(-90) scale(0.827,1)" text-anchor="middle">N</text><text transform="translate(206.68,622.58) rotate(-90) scale(0.895,1)" text-anchor="middle">R</text><text transform="translate(206.68,614.29) rotate(-90) scale(0.672,1)" text-anchor="middle">M</text><text transform="translate(206.68,606.01) rotate(-90) scale(0.800,1)" text-anchor="middle">−</text><text transform="translate(206.68,597.72) rotate(-90) scale(0.895,1)" text-anchor="middle">C</text><text transform="translate(206.68,589.43) rotate(-90) scale(0.672,1)" text-anchor="middle">M</text><text transform="translate(206.68,581.14) rotate(-90)" text-anchor="middle">5</text></g>
<g class="s" font-size="13.6" fill="#222" ><text transform="translate(219.92,641.32) rotate(-90) scale(0.980,1)" text-anchor="middle">F</text><text transform="translate(219.92,633.75) rotate(-90) scale(0.755,1)" text-anchor="middle">G</text><text transform="translate(219.92,626.18) rotate(-90) scale(0.755,1)" text-anchor="middle">O</text><text transform="translate(219.92,618.62) rotate(-90) scale(0.755,1)" text-anchor="middle">A</text><text transform="translate(219.92,611.05) rotate(-90) scale(0.893,1)" text-anchor="middle">L</text><text transform="translate(219.92,603.48) rotate(-90) scale(0.980,1)" text-anchor="middle">S</text><text transform="translate(219.92,595.92) rotate(-90) scale(0.800,1)" text-anchor="middle">−</text><text transform="translate(219.92,588.35) rotate(-90)" text-anchor="middle">g</text><text transform="translate(219.92,580.78) rotate(-90)" text-anchor="middle">2</text></g>
<g class="s" font-size="13.6" fill="#222" ><text transform="translate(233.16,641.32) rotate(-90) scale(0.980,1)" text-anchor="middle">F</text><text transform="translate(233.16,633.75) rotate(-90) scale(0.755,1)" text-anchor="middle">G</text><text transform="translate(233.16,626.18) rotate(-90) scale(0.755,1)" text-anchor="middle">O</text><text transform="translate(233.16,618.62) rotate(-90) scale(0.755,1)" text-anchor="middle">A</text><text transform="translate(233.16,611.05) rotate(-90) scale(0.893,1)" text-anchor="middle">L</text><text transform="translate(233.16,603.48) rotate(-90) scale(0.980,1)" text-anchor="middle">S</text><text transform="translate(233.16,595.92) rotate(-90) scale(0.800,1)" text-anchor="middle">−</text><text transform="translate(233.16,588.35) rotate(-90)" text-anchor="middle">s</text><text transform="translate(233.16,580.78) rotate(-90)" text-anchor="middle">2</text></g>
<g class="s" font-size="13.6" fill="#222" ><text transform="translate(246.40,651.76) rotate(-90) scale(0.785,1)" text-anchor="middle">G</text><text transform="translate(246.40,643.89) rotate(-90)" text-anchor="middle">F</text><text transform="translate(246.40,636.02) rotate(-90) scale(0.785,1)" text-anchor="middle">D</text><text transform="translate(246.40,628.15) rotate(-90) scale(0.928,1)" text-anchor="middle">L</text><text transform="translate(246.40,620.28) rotate(-90) scale(0.800,1)" text-anchor="middle">−</text><text transform="translate(246.40,612.41) rotate(-90) scale(0.928,1)" text-anchor="middle">E</text><text transform="translate(246.40,604.54) rotate(-90)" text-anchor="middle">S</text><text transform="translate(246.40,596.67) rotate(-90) scale(0.638,1)" text-anchor="middle">M</text><text transform="translate(246.40,588.80) rotate(-90)" text-anchor="middle">2</text><text transform="translate(246.40,580.93) rotate(-90) scale(0.785,1)" text-anchor="middle">G</text></g>
<g class="s" font-size="13.6" fill="#222" ><text transform="translate(259.64,652.05) rotate(-90) scale(0.788,1)" text-anchor="middle">G</text><text transform="translate(259.64,644.15) rotate(-90)" text-anchor="middle">F</text><text transform="translate(259.64,636.25) rotate(-90) scale(0.788,1)" text-anchor="middle">D</text><text transform="translate(259.64,628.35) rotate(-90) scale(0.932,1)" text-anchor="middle">L</text><text transform="translate(259.64,620.45) rotate(-90) scale(0.800,1)" text-anchor="middle">−</text><text transform="translate(259.64,612.55) rotate(-90) scale(0.932,1)" text-anchor="middle">E</text><text transform="translate(259.64,604.65) rotate(-90)" text-anchor="middle">S</text><text transform="translate(259.64,596.75) rotate(-90) scale(0.640,1)" text-anchor="middle">M</text><text transform="translate(259.64,588.85) rotate(-90)" text-anchor="middle">2</text><text transform="translate(259.64,580.95) rotate(-90) scale(0.640,1)" text-anchor="middle">M</text></g>
<g class="s" font-size="13.6" fill="#222" ><text transform="translate(272.88,664.30) rotate(-90) scale(1.150,1)" text-anchor="middle">I</text><text transform="translate(272.88,656.71) rotate(-90) scale(0.984,1)" text-anchor="middle">P</text><text transform="translate(272.88,649.12) rotate(-90) scale(0.984,1)" text-anchor="middle">S</text><text transform="translate(272.88,641.53) rotate(-90) scale(0.896,1)" text-anchor="middle">L</text><text transform="translate(272.88,633.94) rotate(-90) scale(0.800,1)" text-anchor="middle">−</text><text transform="translate(272.88,626.35) rotate(-90) scale(0.820,1)" text-anchor="middle">C</text><text transform="translate(272.88,618.75) rotate(-90) scale(0.615,1)" text-anchor="middle">M</text><text transform="translate(272.88,611.16) rotate(-90)" text-anchor="middle">5</text><text transform="translate(272.88,603.57) rotate(-90) scale(0.758,1)" text-anchor="middle">A</text><text transform="translate(272.88,595.98) rotate(-90) scale(0.800,1)" text-anchor="middle">−</text><text transform="translate(272.88,588.39) rotate(-90) scale(0.896,1)" text-anchor="middle">L</text><text transform="translate(272.88,580.80) rotate(-90) scale(0.820,1)" text-anchor="middle">R</text></g>
<g class="s" font-size="13.6" fill="#222" ><text transform="translate(286.12,666.80) rotate(-90) scale(1.150,1)" text-anchor="middle">I</text><text transform="translate(286.12,658.99) rotate(-90)" text-anchor="middle">P</text><text transform="translate(286.12,651.18) rotate(-90)" text-anchor="middle">S</text><text transform="translate(286.12,643.37) rotate(-90) scale(0.921,1)" text-anchor="middle">L</text><text transform="translate(286.12,635.56) rotate(-90) scale(0.800,1)" text-anchor="middle">−</text><text transform="translate(286.12,627.75) rotate(-90) scale(0.844,1)" text-anchor="middle">C</text><text transform="translate(286.12,619.95) rotate(-90) scale(0.633,1)" text-anchor="middle">M</text><text transform="translate(286.12,612.14) rotate(-90)" text-anchor="middle">5</text><text transform="translate(286.12,604.33) rotate(-90) scale(0.779,1)" text-anchor="middle">A</text><text transform="translate(286.12,596.52) rotate(-90) scale(0.800,1)" text-anchor="middle">−</text><text transform="translate(286.12,588.71) rotate(-90) scale(0.633,1)" text-anchor="middle">M</text><text transform="translate(286.12,580.90) rotate(-90) scale(0.844,1)" text-anchor="middle">R</text></g>
<g class="s" font-size="13.6" fill="#222" ><text transform="translate(299.36,664.30) rotate(-90) scale(1.150,1)" text-anchor="middle">I</text><text transform="translate(299.36,656.71) rotate(-90) scale(0.984,1)" text-anchor="middle">P</text><text transform="translate(299.36,649.12) rotate(-90) scale(0.984,1)" text-anchor="middle">S</text><text transform="translate(299.36,641.53) rotate(-90) scale(0.896,1)" text-anchor="middle">L</text><text transform="translate(299.36,633.94) rotate(-90) scale(0.800,1)" text-anchor="middle">−</text><text transform="translate(299.36,626.35) rotate(-90) scale(0.820,1)" text-anchor="middle">C</text><text transform="translate(299.36,618.75) rotate(-90) scale(0.615,1)" text-anchor="middle">M</text><text transform="translate(299.36,611.16) rotate(-90)" text-anchor="middle">5</text><text transform="translate(299.36,603.57) rotate(-90) scale(0.820,1)" text-anchor="middle">B</text><text transform="translate(299.36,595.98) rotate(-90) scale(0.800,1)" text-anchor="middle">−</text><text transform="translate(299.36,588.39) rotate(-90) scale(0.896,1)" text-anchor="middle">L</text><text transform="translate(299.36,580.80) rotate(-90) scale(0.820,1)" text-anchor="middle">R</text></g>
<g class="s" font-size="13.6" fill="#222" ><text transform="translate(312.60,616.69) rotate(-90) scale(0.585,1)" text-anchor="middle">M</text><text transform="translate(312.60,609.48) rotate(-90) scale(1.150,1)" text-anchor="middle">I</text><text transform="translate(312.60,602.26) rotate(-90) scale(0.780,1)" text-anchor="middle">R</text><text transform="translate(312.60,595.04) rotate(-90) scale(0.720,1)" text-anchor="middle">O</text><text transform="translate(312.60,587.83) rotate(-90) scale(0.780,1)" text-anchor="middle">C</text><text transform="translate(312.60,580.61) rotate(-90)" text-anchor="middle">5</text></g>
<g class="s" font-size="13.6" fill="#222" ><text transform="translate(325.84,642.64) rotate(-90) scale(0.626,1)" text-anchor="middle">M</text><text transform="translate(325.84,634.92) rotate(-90) scale(1.150,1)" text-anchor="middle">I</text><text transform="translate(325.84,627.19) rotate(-90) scale(0.834,1)" text-anchor="middle">R</text><text transform="translate(325.84,619.47) rotate(-90) scale(0.771,1)" text-anchor="middle">O</text><text transform="translate(325.84,611.75) rotate(-90) scale(0.834,1)" text-anchor="middle">C</text><text transform="translate(325.84,604.03) rotate(-90) scale(0.800,1)" text-anchor="middle">−</text><text transform="translate(325.84,596.31) rotate(-90) scale(0.911,1)" text-anchor="middle">E</text><text transform="translate(325.84,588.58) rotate(-90)" text-anchor="middle">S</text><text transform="translate(325.84,580.86) rotate(-90) scale(0.626,1)" text-anchor="middle">M</text></g>
<g class="s" font-size="13.6" fill="#222" ><text transform="translate(339.08,685.67) rotate(-90) scale(0.652,1)" text-anchor="middle">M</text><text transform="translate(339.08,677.62) rotate(-90) scale(1.150,1)" text-anchor="middle">I</text><text transform="translate(339.08,669.58) rotate(-90) scale(0.870,1)" text-anchor="middle">R</text><text transform="translate(339.08,661.52) rotate(-90) scale(0.803,1)" text-anchor="middle">O</text><text transform="translate(339.08,653.48) rotate(-90) scale(0.870,1)" text-anchor="middle">C</text><text transform="translate(339.08,645.42) rotate(-90) scale(0.800,1)" text-anchor="middle">−</text><text transform="translate(339.08,637.38) rotate(-90) scale(0.950,1)" text-anchor="middle">E</text><text transform="translate(339.08,629.33) rotate(-90)" text-anchor="middle">S</text><text transform="translate(339.08,621.27) rotate(-90) scale(0.652,1)" text-anchor="middle">M</text><text transform="translate(339.08,613.23) rotate(-90) scale(0.800,1)" text-anchor="middle">−</text><text transform="translate(339.08,605.17) rotate(-90) scale(0.870,1)" text-anchor="middle">C</text><text transform="translate(339.08,597.12) rotate(-90) scale(0.803,1)" text-anchor="middle">H</text><text transform="translate(339.08,589.08) rotate(-90) scale(0.950,1)" text-anchor="middle">E</text><text transform="translate(339.08,581.02) rotate(-90) scale(0.652,1)" text-anchor="middle">M</text></g>
<g class="s" font-size="13.6" fill="#222" ><text transform="translate(352.32,651.38) rotate(-90) scale(0.635,1)" text-anchor="middle">M</text><text transform="translate(352.32,643.56) rotate(-90)" text-anchor="middle">P</text><text transform="translate(352.32,635.73) rotate(-90) scale(1.150,1)" text-anchor="middle">I</text><text transform="translate(352.32,627.89) rotate(-90) scale(0.800,1)" text-anchor="middle">−</text><text transform="translate(352.32,620.07) rotate(-90) scale(0.924,1)" text-anchor="middle">E</text><text transform="translate(352.32,612.24) rotate(-90)" text-anchor="middle">S</text><text transform="translate(352.32,604.40) rotate(-90) scale(0.635,1)" text-anchor="middle">M</text><text transform="translate(352.32,596.58) rotate(-90) scale(0.800,1)" text-anchor="middle">−</text><text transform="translate(352.32,588.75) rotate(-90) scale(0.924,1)" text-anchor="middle">L</text><text transform="translate(352.32,580.91) rotate(-90) scale(0.846,1)" text-anchor="middle">R</text></g>
<g class="s" font-size="13.6" fill="#222" ><text transform="translate(365.56,653.48) rotate(-90) scale(0.652,1)" text-anchor="middle">M</text><text transform="translate(365.56,645.42) rotate(-90)" text-anchor="middle">P</text><text transform="translate(365.56,637.38) rotate(-90) scale(1.150,1)" text-anchor="middle">I</text><text transform="translate(365.56,629.33) rotate(-90) scale(0.800,1)" text-anchor="middle">−</text><text transform="translate(365.56,621.27) rotate(-90) scale(0.950,1)" text-anchor="middle">E</text><text transform="translate(365.56,613.23) rotate(-90)" text-anchor="middle">S</text><text transform="translate(365.56,605.17) rotate(-90) scale(0.652,1)" text-anchor="middle">M</text><text transform="translate(365.56,597.12) rotate(-90) scale(0.800,1)" text-anchor="middle">−</text><text transform="translate(365.56,589.08) rotate(-90) scale(0.652,1)" text-anchor="middle">M</text><text transform="translate(365.56,581.02) rotate(-90) scale(0.870,1)" text-anchor="middle">R</text></g>
<g class="s" font-size="13.6" fill="#222" ><text transform="translate(378.80,644.62) rotate(-90) scale(0.645,1)" text-anchor="middle">M</text><text transform="translate(378.80,636.67) rotate(-90)" text-anchor="middle">P</text><text transform="translate(378.80,628.71) rotate(-90) scale(1.150,1)" text-anchor="middle">I</text><text transform="translate(378.80,620.76) rotate(-90) scale(0.800,1)" text-anchor="middle">−</text><text transform="translate(378.80,612.80) rotate(-90) scale(0.938,1)" text-anchor="middle">E</text><text transform="translate(378.80,604.84) rotate(-90)" text-anchor="middle">S</text><text transform="translate(378.80,596.89) rotate(-90) scale(0.645,1)" text-anchor="middle">M</text><text transform="translate(378.80,588.93) rotate(-90) scale(0.800,1)" text-anchor="middle">−</text><text transform="translate(378.80,580.98) rotate(-90)" text-anchor="middle">P</text></g>
<g class="s" font-size="13.6" fill="#222" ><text transform="translate(392.04,644.34) rotate(-90) scale(0.790,1)" text-anchor="middle">N</text><text transform="translate(392.04,636.42) rotate(-90)" text-anchor="middle">o</text><text transform="translate(392.04,628.49) rotate(-90)" text-anchor="middle">r</text><text transform="translate(392.04,620.57) rotate(-90) scale(0.935,1)" text-anchor="middle">E</text><text transform="translate(392.04,612.65) rotate(-90)" text-anchor="middle">S</text><text transform="translate(392.04,604.73) rotate(-90) scale(0.642,1)" text-anchor="middle">M</text><text transform="translate(392.04,596.81) rotate(-90)" text-anchor="middle">1</text><text transform="translate(392.04,588.88) rotate(-90) scale(0.800,1)" text-anchor="middle">−</text><text transform="translate(392.04,580.96) rotate(-90) scale(0.642,1)" text-anchor="middle">M</text></g>
<g class="s" font-size="13.6" fill="#222" ><text transform="translate(405.28,674.79) rotate(-90) scale(0.845,1)" text-anchor="middle">C</text><text transform="translate(405.28,666.97) rotate(-90)" text-anchor="middle">S</text><text transform="translate(405.28,659.14) rotate(-90) scale(1.150,1)" text-anchor="middle">I</text><text transform="translate(405.28,651.32) rotate(-90) scale(0.845,1)" text-anchor="middle">R</text><text transform="translate(405.28,643.50) rotate(-90) scale(0.781,1)" text-anchor="middle">O</text><text transform="translate(405.28,635.67) rotate(-90) scale(0.800,1)" text-anchor="middle">−</text><text transform="translate(405.28,627.85) rotate(-90) scale(0.634,1)" text-anchor="middle">M</text><text transform="translate(405.28,620.03) rotate(-90)" text-anchor="middle">k</text><text transform="translate(405.28,612.20) rotate(-90)" text-anchor="middle">3</text><text transform="translate(405.28,604.38) rotate(-90) scale(0.800,1)" text-anchor="middle">−</text><text transform="translate(405.28,596.56) rotate(-90)" text-anchor="middle">6</text><text transform="translate(405.28,588.73) rotate(-90) scale(0.800,1)" text-anchor="middle">−</text><text transform="translate(405.28,580.91) rotate(-90)" text-anchor="middle">0</text></g>
<g class="s" font-size="13.6" fill="#222" ><text transform="translate(418.52,653.48) rotate(-90) scale(0.803,1)" text-anchor="middle">H</text><text transform="translate(418.52,645.42) rotate(-90)" text-anchor="middle">a</text><text transform="translate(418.52,637.38) rotate(-90)" text-anchor="middle">d</text><text transform="translate(418.52,629.33) rotate(-90) scale(0.803,1)" text-anchor="middle">G</text><text transform="translate(418.52,621.27) rotate(-90) scale(0.950,1)" text-anchor="middle">E</text><text transform="translate(418.52,613.23) rotate(-90) scale(0.652,1)" text-anchor="middle">M</text><text transform="translate(418.52,605.17) rotate(-90)" text-anchor="middle">2</text><text transform="translate(418.52,597.12) rotate(-90) scale(0.800,1)" text-anchor="middle">−</text><text transform="translate(418.52,589.08) rotate(-90) scale(0.870,1)" text-anchor="middle">C</text><text transform="translate(418.52,581.02) rotate(-90) scale(0.870,1)" text-anchor="middle">C</text></g>
<g class="s" font-size="13.6" fill="#222" ><text transform="translate(431.76,620.82) rotate(-90)" text-anchor="middle">i</text><text transform="translate(431.76,612.85) rotate(-90)" text-anchor="middle">n</text><text transform="translate(431.76,604.88) rotate(-90) scale(0.738,1)" text-anchor="middle">m</text><text transform="translate(431.76,596.92) rotate(-90)" text-anchor="middle">c</text><text transform="translate(431.76,588.95) rotate(-90) scale(0.738,1)" text-anchor="middle">m</text><text transform="translate(431.76,580.98) rotate(-90)" text-anchor="middle">4</text></g>
<g class="s" font-size="13.6" fill="#222" ><text transform="translate(445.00,624.64) rotate(-90) scale(0.594,1)" text-anchor="middle">M</text><text transform="translate(445.00,617.31) rotate(-90) scale(1.150,1)" text-anchor="middle">I</text><text transform="translate(445.00,609.98) rotate(-90) scale(0.792,1)" text-anchor="middle">R</text><text transform="translate(445.00,602.65) rotate(-90) scale(0.731,1)" text-anchor="middle">O</text><text transform="translate(445.00,595.32) rotate(-90) scale(0.792,1)" text-anchor="middle">C</text><text transform="translate(445.00,587.99) rotate(-90)" text-anchor="middle">4</text><text transform="translate(445.00,580.66) rotate(-90)" text-anchor="middle">h</text></g>
<g class="s" font-size="13.6" fill="#222" ><text transform="translate(458.24,642.92) rotate(-90) scale(0.629,1)" text-anchor="middle">M</text><text transform="translate(458.24,635.17) rotate(-90) scale(0.838,1)" text-anchor="middle">R</text><text transform="translate(458.24,627.41) rotate(-90) scale(1.150,1)" text-anchor="middle">I</text><text transform="translate(458.24,619.66) rotate(-90) scale(0.800,1)" text-anchor="middle">−</text><text transform="translate(458.24,611.90) rotate(-90) scale(0.838,1)" text-anchor="middle">C</text><text transform="translate(458.24,604.14) rotate(-90) scale(0.774,1)" text-anchor="middle">G</text><text transform="translate(458.24,596.39) rotate(-90) scale(0.838,1)" text-anchor="middle">C</text><text transform="translate(458.24,588.63) rotate(-90) scale(0.629,1)" text-anchor="middle">M</text><text transform="translate(458.24,580.88) rotate(-90)" text-anchor="middle">3</text></g>
<g class="s" font-size="13.6" fill="#222" ><text transform="translate(471.48,636.62) rotate(-90) scale(0.793,1)" text-anchor="middle">G</text><text transform="translate(471.48,628.67) rotate(-90)" text-anchor="middle">F</text><text transform="translate(471.48,620.73) rotate(-90) scale(0.793,1)" text-anchor="middle">D</text><text transform="translate(471.48,612.77) rotate(-90) scale(0.938,1)" text-anchor="middle">L</text><text transform="translate(471.48,604.83) rotate(-90) scale(0.800,1)" text-anchor="middle">−</text><text transform="translate(471.48,596.88) rotate(-90) scale(0.859,1)" text-anchor="middle">C</text><text transform="translate(471.48,588.92) rotate(-90) scale(0.644,1)" text-anchor="middle">M</text><text transform="translate(471.48,580.98) rotate(-90)" text-anchor="middle">3</text></g>
<g class="s" font-size="13.6" fill="#222" ><text transform="translate(484.72,653.10) rotate(-90) scale(0.799,1)" text-anchor="middle">H</text><text transform="translate(484.72,645.09) rotate(-90)" text-anchor="middle">a</text><text transform="translate(484.72,637.08) rotate(-90)" text-anchor="middle">d</text><text transform="translate(484.72,629.07) rotate(-90) scale(0.799,1)" text-anchor="middle">G</text><text transform="translate(484.72,621.05) rotate(-90) scale(0.945,1)" text-anchor="middle">E</text><text transform="translate(484.72,613.04) rotate(-90) scale(0.649,1)" text-anchor="middle">M</text><text transform="translate(484.72,605.03) rotate(-90)" text-anchor="middle">2</text><text transform="translate(484.72,597.02) rotate(-90) scale(0.800,1)" text-anchor="middle">−</text><text transform="translate(484.72,589.01) rotate(-90) scale(0.945,1)" text-anchor="middle">E</text><text transform="translate(484.72,581.00) rotate(-90)" text-anchor="middle">S</text></g>
<g class="s" font-size="13.6" fill="#222" ><text transform="translate(497.96,620.17) rotate(-90) scale(0.783,1)" text-anchor="middle">H</text><text transform="translate(497.96,612.33) rotate(-90)" text-anchor="middle">a</text><text transform="translate(497.96,604.48) rotate(-90)" text-anchor="middle">d</text><text transform="translate(497.96,596.62) rotate(-90) scale(0.848,1)" text-anchor="middle">C</text><text transform="translate(497.96,588.77) rotate(-90) scale(0.636,1)" text-anchor="middle">M</text><text transform="translate(497.96,580.92) rotate(-90)" text-anchor="middle">3</text></g>
<g class="s" font-size="13.6" fill="#222" ><text transform="translate(511.20,641.41) rotate(-90) scale(0.756,1)" text-anchor="middle">A</text><text transform="translate(511.20,633.83) rotate(-90) scale(0.819,1)" text-anchor="middle">C</text><text transform="translate(511.20,626.26) rotate(-90) scale(0.819,1)" text-anchor="middle">C</text><text transform="translate(511.20,618.68) rotate(-90) scale(0.894,1)" text-anchor="middle">E</text><text transform="translate(511.20,611.10) rotate(-90) scale(0.982,1)" text-anchor="middle">S</text><text transform="translate(511.20,603.52) rotate(-90) scale(0.982,1)" text-anchor="middle">S</text><text transform="translate(511.20,595.94) rotate(-90)" text-anchor="middle">1</text><text transform="translate(511.20,588.37) rotate(-90) scale(0.800,1)" text-anchor="middle">−</text><text transform="translate(511.20,580.79) rotate(-90)" text-anchor="middle">0</text></g>
<g class="s" font-size="13.6" fill="#222" ><text transform="translate(524.44,641.60) rotate(-90) scale(0.758,1)" text-anchor="middle">A</text><text transform="translate(524.44,634.00) rotate(-90) scale(0.821,1)" text-anchor="middle">C</text><text transform="translate(524.44,626.40) rotate(-90) scale(0.821,1)" text-anchor="middle">C</text><text transform="translate(524.44,618.80) rotate(-90) scale(0.897,1)" text-anchor="middle">E</text><text transform="translate(524.44,611.20) rotate(-90) scale(0.985,1)" text-anchor="middle">S</text><text transform="translate(524.44,603.60) rotate(-90) scale(0.985,1)" text-anchor="middle">S</text><text transform="translate(524.44,596.00) rotate(-90)" text-anchor="middle">1</text><text transform="translate(524.44,588.40) rotate(-90) scale(0.800,1)" text-anchor="middle">−</text><text transform="translate(524.44,580.80) rotate(-90)" text-anchor="middle">3</text></g>
<g class="s" font-size="13.6" fill="#222" ><text transform="translate(537.68,619.90) rotate(-90) scale(0.843,1)" text-anchor="middle">C</text><text transform="translate(537.68,612.10) rotate(-90)" text-anchor="middle">a</text><text transform="translate(537.68,604.30) rotate(-90)" text-anchor="middle">n</text><text transform="translate(537.68,596.50) rotate(-90) scale(0.843,1)" text-anchor="middle">C</text><text transform="translate(537.68,588.70) rotate(-90) scale(0.632,1)" text-anchor="middle">M</text><text transform="translate(537.68,580.90) rotate(-90)" text-anchor="middle">4</text></g>
<g class="s" font-size="13.6" fill="#222" ><text transform="translate(550.92,611.56) rotate(-90) scale(0.830,1)" text-anchor="middle">C</text><text transform="translate(550.92,603.88) rotate(-90) scale(0.830,1)" text-anchor="middle">C</text><text transform="translate(550.92,596.20) rotate(-90) scale(0.995,1)" text-anchor="middle">S</text><text transform="translate(550.92,588.52) rotate(-90) scale(0.622,1)" text-anchor="middle">M</text><text transform="translate(550.92,580.84) rotate(-90)" text-anchor="middle">4</text></g>
<g class="s" font-size="13.6" fill="#222" ><text transform="translate(564.16,652.43) rotate(-90) scale(0.858,1)" text-anchor="middle">C</text><text transform="translate(564.16,644.49) rotate(-90) scale(0.937,1)" text-anchor="middle">E</text><text transform="translate(564.16,636.55) rotate(-90)" text-anchor="middle">S</text><text transform="translate(564.16,628.61) rotate(-90) scale(0.643,1)" text-anchor="middle">M</text><text transform="translate(564.16,620.67) rotate(-90)" text-anchor="middle">1</text><text transform="translate(564.16,612.73) rotate(-90) scale(0.800,1)" text-anchor="middle">−</text><text transform="translate(564.16,604.79) rotate(-90) scale(0.858,1)" text-anchor="middle">C</text><text transform="translate(564.16,596.85) rotate(-90) scale(0.792,1)" text-anchor="middle">A</text><text transform="translate(564.16,588.91) rotate(-90) scale(0.643,1)" text-anchor="middle">M</text><text transform="translate(564.16,580.97) rotate(-90)" text-anchor="middle">5</text></g>
<g class="s" font-size="13.6" fill="#222" ><text transform="translate(577.40,683.46) rotate(-90) scale(0.852,1)" text-anchor="middle">C</text><text transform="translate(577.40,675.57) rotate(-90) scale(0.930,1)" text-anchor="middle">E</text><text transform="translate(577.40,667.69) rotate(-90)" text-anchor="middle">S</text><text transform="translate(577.40,659.80) rotate(-90) scale(0.639,1)" text-anchor="middle">M</text><text transform="translate(577.40,651.91) rotate(-90)" text-anchor="middle">1</text><text transform="translate(577.40,644.03) rotate(-90) scale(0.800,1)" text-anchor="middle">−</text><text transform="translate(577.40,636.14) rotate(-90)" text-anchor="middle">F</text><text transform="translate(577.40,628.26) rotate(-90) scale(0.787,1)" text-anchor="middle">A</text><text transform="translate(577.40,620.37) rotate(-90)" text-anchor="middle">S</text><text transform="translate(577.40,612.49) rotate(-90) scale(0.930,1)" text-anchor="middle">T</text><text transform="translate(577.40,604.60) rotate(-90) scale(0.852,1)" text-anchor="middle">C</text><text transform="translate(577.40,596.71) rotate(-90) scale(0.787,1)" text-anchor="middle">H</text><text transform="translate(577.40,588.83) rotate(-90) scale(0.930,1)" text-anchor="middle">E</text><text transform="translate(577.40,580.94) rotate(-90) scale(0.639,1)" text-anchor="middle">M</text></g>
<g class="s" font-size="13.6" fill="#222" ><text transform="translate(590.64,635.50) rotate(-90) scale(0.920,1)" text-anchor="middle">E</text><text transform="translate(590.64,627.70) rotate(-90) scale(0.843,1)" text-anchor="middle">C</text><text transform="translate(590.64,619.90) rotate(-90) scale(0.800,1)" text-anchor="middle">−</text><text transform="translate(590.64,612.10) rotate(-90) scale(0.920,1)" text-anchor="middle">E</text><text transform="translate(590.64,604.30) rotate(-90) scale(0.778,1)" text-anchor="middle">A</text><text transform="translate(590.64,596.50) rotate(-90) scale(0.843,1)" text-anchor="middle">R</text><text transform="translate(590.64,588.70) rotate(-90) scale(0.920,1)" text-anchor="middle">T</text><text transform="translate(590.64,580.90) rotate(-90) scale(0.778,1)" text-anchor="middle">H</text></g>
<g class="s" font-size="13.2" fill="#3c3c3c"><text transform="translate(73.40,580.30) rotate(-90)" text-anchor="middle">S</text><text transform="translate(73.40,587.70) rotate(-90)" text-anchor="middle">B</text><text transform="translate(73.40,596.00) rotate(-90) scale(0.900,1)" text-anchor="middle">O</text></g>
<g class="s" font-size="13.2" fill="#3c3c3c"><text transform="translate(85.10,581.00) rotate(-90) scale(0.850,1)" text-anchor="middle">&amp;</text></g>
<g class="s" font-size="13.5" fill="#3c3c3c"><text transform="translate(94.40,580.80) rotate(-90)" text-anchor="middle">n</text><text transform="translate(94.40,589.50) rotate(-90)" text-anchor="middle">a</text><text transform="translate(94.40,597.20) rotate(-90)" text-anchor="middle">e</text><text transform="translate(94.40,605.70) rotate(-90) scale(0.850,1)" text-anchor="middle">m</text><text transform="translate(94.40,619.50) rotate(-90)" text-anchor="middle">l</text><text transform="translate(94.40,626.20) rotate(-90)" text-anchor="middle">e</text><text transform="translate(94.40,633.00) rotate(-90)" text-anchor="middle">d</text><text transform="translate(94.40,641.00) rotate(-90)" text-anchor="middle">o</text><text transform="translate(94.40,650.60) rotate(-90) scale(0.850,1)" text-anchor="middle">m</text><text transform="translate(94.40,660.30) rotate(-90) scale(0.900,1)" text-anchor="middle">−</text><text transform="translate(94.40,667.90) rotate(-90)" text-anchor="middle">i</text><text transform="translate(94.40,672.20) rotate(-90)" text-anchor="middle">t</text><text transform="translate(94.40,676.20) rotate(-90)" text-anchor="middle">l</text><text transform="translate(94.40,681.50) rotate(-90)" text-anchor="middle">u</text><text transform="translate(94.40,691.30) rotate(-90) scale(0.800,1)" text-anchor="middle">M</text></g>
<circle cx="109.50" cy="87.8" r="2.8" fill="#fff" stroke="#161616" stroke-width="1.32"/>
<circle cx="109.50" cy="81.7" r="2.8" fill="#fff" stroke="#eb3a45" stroke-width="1.32"/>
<circle cx="109.50" cy="68.0" r="2.8" fill="#fff" stroke="#34b454" stroke-width="1.32"/>
<circle cx="109.50" cy="76.7" r="2.8" fill="#fff" stroke="#2547a6" stroke-width="1.32"/>
<circle cx="122.74" cy="106.2" r="2.8" fill="#fff" stroke="#eb3a45" stroke-width="1.32"/>
<circle cx="122.74" cy="99.6" r="2.8" fill="#fff" stroke="#34b454" stroke-width="1.32"/>
<circle cx="122.74" cy="95.9" r="2.8" fill="#fff" stroke="#2547a6" stroke-width="1.32"/>
<circle cx="135.98" cy="92.4" r="2.8" fill="#fff" stroke="#eb3a45" stroke-width="1.32"/>
<circle cx="135.98" cy="95.9" r="2.8" fill="#fff" stroke="#34b454" stroke-width="1.32"/>
<circle cx="135.98" cy="103.7" r="2.8" fill="#fff" stroke="#2547a6" stroke-width="1.32"/>
<circle cx="149.22" cy="108.7" r="2.8" fill="#fff" stroke="#161616" stroke-width="1.32"/>
<circle cx="149.22" cy="104.5" r="2.8" fill="#fff" stroke="#34b454" stroke-width="1.32"/>
<circle cx="149.22" cy="107.0" r="2.8" fill="#fff" stroke="#2547a6" stroke-width="1.32"/>
<circle cx="162.46" cy="97.9" r="2.8" fill="#fff" stroke="#eb3a45" stroke-width="1.32"/>
<circle cx="162.46" cy="93.7" r="2.8" fill="#fff" stroke="#34b454" stroke-width="1.32"/>
<circle cx="162.46" cy="83.4" r="2.8" fill="#fff" stroke="#2547a6" stroke-width="1.32"/>
<circle cx="175.70" cy="71.1" r="2.8" fill="#fff" stroke="#161616" stroke-width="1.32"/>
<circle cx="175.70" cy="78.0" r="2.8" fill="#fff" stroke="#eb3a45" stroke-width="1.32"/>
<circle cx="175.70" cy="69.2" r="2.8" fill="#fff" stroke="#34b454" stroke-width="1.32"/>
<circle cx="175.70" cy="87.5" r="2.8" fill="#fff" stroke="#2547a6" stroke-width="1.32"/>
<circle cx="188.94" cy="77.7" r="2.8" fill="#fff" stroke="#161616" stroke-width="1.32"/>
<circle cx="188.94" cy="87.5" r="2.8" fill="#fff" stroke="#eb3a45" stroke-width="1.32"/>
<circle cx="188.94" cy="74.2" r="2.8" fill="#fff" stroke="#34b454" stroke-width="1.32"/>
<circle cx="188.94" cy="85.7" r="2.8" fill="#fff" stroke="#2547a6" stroke-width="1.32"/>
<circle cx="202.18" cy="58.8" r="2.8" fill="#fff" stroke="#161616" stroke-width="1.32"/>
<circle cx="202.18" cy="70.0" r="2.8" fill="#fff" stroke="#eb3a45" stroke-width="1.32"/>
<circle cx="202.18" cy="24.9" r="2.8" fill="#fff" stroke="#2547a6" stroke-width="1.32"/>
<circle cx="215.42" cy="89.5" r="2.8" fill="#fff" stroke="#eb3a45" stroke-width="1.32"/>
<circle cx="215.42" cy="85.7" r="2.8" fill="#fff" stroke="#34b454" stroke-width="1.32"/>
<circle cx="215.42" cy="96.0" r="2.8" fill="#fff" stroke="#2547a6" stroke-width="1.32"/>
<circle cx="228.66" cy="100.3" r="2.8" fill="#fff" stroke="#161616" stroke-width="1.32"/>
<circle cx="228.66" cy="91.1" r="2.8" fill="#fff" stroke="#eb3a45" stroke-width="1.32"/>
<circle cx="228.66" cy="97.2" r="2.8" fill="#fff" stroke="#34b454" stroke-width="1.32"/>
<circle cx="228.66" cy="87.2" r="2.8" fill="#fff" stroke="#2547a6" stroke-width="1.32"/>
<circle cx="241.90" cy="98.0" r="2.8" fill="#fff" stroke="#eb3a45" stroke-width="1.32"/>
<circle cx="241.90" cy="88.0" r="2.8" fill="#fff" stroke="#34b454" stroke-width="1.32"/>
<circle cx="241.90" cy="103.7" r="2.8" fill="#fff" stroke="#2547a6" stroke-width="1.32"/>
<circle cx="255.14" cy="93.8" r="2.8" fill="#fff" stroke="#eb3a45" stroke-width="1.32"/>
<circle cx="255.14" cy="89.5" r="2.8" fill="#fff" stroke="#34b454" stroke-width="1.32"/>
<circle cx="255.14" cy="102.3" r="2.8" fill="#fff" stroke="#2547a6" stroke-width="1.32"/>
<circle cx="268.38" cy="98.0" r="2.8" fill="#fff" stroke="#161616" stroke-width="1.32"/>
<circle cx="268.38" cy="89.8" r="2.8" fill="#fff" stroke="#eb3a45" stroke-width="1.32"/>
<circle cx="268.38" cy="95.7" r="2.8" fill="#fff" stroke="#34b454" stroke-width="1.32"/>
<circle cx="268.38" cy="106.0" r="2.8" fill="#fff" stroke="#2547a6" stroke-width="1.32"/>
<circle cx="281.62" cy="91.1" r="2.8" fill="#fff" stroke="#161616" stroke-width="1.32"/>
<circle cx="281.62" cy="87.5" r="2.8" fill="#fff" stroke="#eb3a45" stroke-width="1.32"/>
<circle cx="281.62" cy="96.5" r="2.8" fill="#fff" stroke="#34b454" stroke-width="1.32"/>
<circle cx="281.62" cy="107.5" r="2.8" fill="#fff" stroke="#2547a6" stroke-width="1.32"/>
<circle cx="294.86" cy="76.8" r="2.8" fill="#fff" stroke="#161616" stroke-width="1.32"/>
<circle cx="294.86" cy="82.6" r="2.8" fill="#fff" stroke="#eb3a45" stroke-width="1.32"/>
<circle cx="294.86" cy="42.6" r="2.8" fill="#fff" stroke="#34b454" stroke-width="1.32"/>
<circle cx="294.86" cy="85.2" r="2.8" fill="#fff" stroke="#2547a6" stroke-width="1.32"/>
<circle cx="308.10" cy="87.5" r="2.8" fill="#fff" stroke="#161616" stroke-width="1.32"/>
<circle cx="308.10" cy="76.9" r="2.8" fill="#fff" stroke="#eb3a45" stroke-width="1.32"/>
<circle cx="308.10" cy="75.4" r="2.8" fill="#fff" stroke="#34b454" stroke-width="1.32"/>
<circle cx="308.10" cy="96.0" r="2.8" fill="#fff" stroke="#2547a6" stroke-width="1.32"/>
<circle cx="321.34" cy="107.2" r="2.8" fill="#fff" stroke="#eb3a45" stroke-width="1.32"/>
<circle cx="321.34" cy="104.9" r="2.8" fill="#fff" stroke="#34b454" stroke-width="1.32"/>
<circle cx="321.34" cy="102.6" r="2.8" fill="#fff" stroke="#2547a6" stroke-width="1.32"/>
<circle cx="334.58" cy="110.8" r="2.8" fill="#fff" stroke="#eb3a45" stroke-width="1.32"/>
<circle cx="334.58" cy="106.8" r="2.8" fill="#fff" stroke="#34b454" stroke-width="1.32"/>
<circle cx="334.58" cy="102.2" r="2.8" fill="#fff" stroke="#2547a6" stroke-width="1.32"/>
<circle cx="347.82" cy="91.1" r="2.8" fill="#fff" stroke="#eb3a45" stroke-width="1.32"/>
<circle cx="347.82" cy="94.9" r="2.8" fill="#fff" stroke="#34b454" stroke-width="1.32"/>
<circle cx="347.82" cy="92.9" r="2.8" fill="#fff" stroke="#2547a6" stroke-width="1.32"/>
<circle cx="361.06" cy="85.7" r="2.8" fill="#fff" stroke="#161616" stroke-width="1.32"/>
<circle cx="361.06" cy="88.0" r="2.8" fill="#fff" stroke="#eb3a45" stroke-width="1.32"/>
<circle cx="361.06" cy="82.6" r="2.8" fill="#fff" stroke="#34b454" stroke-width="1.32"/>
<circle cx="361.06" cy="79.5" r="2.8" fill="#fff" stroke="#2547a6" stroke-width="1.32"/>
<circle cx="374.30" cy="91.8" r="2.8" fill="#fff" stroke="#eb3a45" stroke-width="1.32"/>
<circle cx="374.30" cy="95.7" r="2.8" fill="#fff" stroke="#2547a6" stroke-width="1.32"/>
<circle cx="387.54" cy="83.4" r="2.8" fill="#fff" stroke="#161616" stroke-width="1.32"/>
<circle cx="387.54" cy="72.2" r="2.8" fill="#fff" stroke="#eb3a45" stroke-width="1.32"/>
<circle cx="387.54" cy="85.2" r="2.8" fill="#fff" stroke="#34b454" stroke-width="1.32"/>
<circle cx="387.54" cy="93.7" r="2.8" fill="#fff" stroke="#2547a6" stroke-width="1.32"/>
<circle cx="400.78" cy="92.9" r="2.8" fill="#fff" stroke="#161616" stroke-width="1.32"/>
<circle cx="400.78" cy="83.7" r="2.8" fill="#fff" stroke="#eb3a45" stroke-width="1.32"/>
<circle cx="400.78" cy="85.7" r="2.8" fill="#fff" stroke="#34b454" stroke-width="1.32"/>
<circle cx="400.78" cy="89.5" r="2.8" fill="#fff" stroke="#2547a6" stroke-width="1.32"/>
<circle cx="414.02" cy="98.8" r="2.8" fill="#fff" stroke="#161616" stroke-width="1.32"/>
<circle cx="414.02" cy="93.4" r="2.8" fill="#fff" stroke="#eb3a45" stroke-width="1.32"/>
<circle cx="414.02" cy="74.6" r="2.8" fill="#fff" stroke="#34b454" stroke-width="1.32"/>
<circle cx="414.02" cy="95.7" r="2.8" fill="#fff" stroke="#2547a6" stroke-width="1.32"/>
<circle cx="427.26" cy="108.5" r="2.8" fill="#fff" stroke="#161616" stroke-width="1.32"/>
<circle cx="427.26" cy="104.2" r="2.8" fill="#fff" stroke="#34b454" stroke-width="1.32"/>
<circle cx="427.26" cy="101.5" r="2.8" fill="#fff" stroke="#2547a6" stroke-width="1.32"/>
<circle cx="440.50" cy="92.3" r="2.8" fill="#fff" stroke="#161616" stroke-width="1.32"/>
<circle cx="440.50" cy="87.2" r="2.8" fill="#fff" stroke="#eb3a45" stroke-width="1.32"/>
<circle cx="440.50" cy="95.4" r="2.8" fill="#fff" stroke="#34b454" stroke-width="1.32"/>
<circle cx="440.50" cy="93.8" r="2.8" fill="#fff" stroke="#2547a6" stroke-width="1.32"/>
<circle cx="453.74" cy="66.9" r="2.8" fill="#fff" stroke="#161616" stroke-width="1.32"/>
<circle cx="453.74" cy="82.6" r="2.8" fill="#fff" stroke="#eb3a45" stroke-width="1.32"/>
<circle cx="453.74" cy="65.4" r="2.8" fill="#fff" stroke="#34b454" stroke-width="1.32"/>
<circle cx="453.74" cy="92.2" r="2.8" fill="#fff" stroke="#2547a6" stroke-width="1.32"/>
<circle cx="466.98" cy="82.6" r="2.8" fill="#fff" stroke="#161616" stroke-width="1.32"/>
<circle cx="466.98" cy="89.5" r="2.8" fill="#fff" stroke="#eb3a45" stroke-width="1.32"/>
<circle cx="466.98" cy="77.2" r="2.8" fill="#fff" stroke="#34b454" stroke-width="1.32"/>
<circle cx="466.98" cy="94.2" r="2.8" fill="#fff" stroke="#2547a6" stroke-width="1.32"/>
<circle cx="480.22" cy="101.5" r="2.8" fill="#fff" stroke="#161616" stroke-width="1.32"/>
<circle cx="480.22" cy="99.5" r="2.8" fill="#fff" stroke="#eb3a45" stroke-width="1.32"/>
<circle cx="493.46" cy="96.0" r="2.8" fill="#fff" stroke="#161616" stroke-width="1.32"/>
<circle cx="493.46" cy="84.5" r="2.8" fill="#fff" stroke="#34b454" stroke-width="1.32"/>
<circle cx="493.46" cy="94.5" r="2.8" fill="#fff" stroke="#2547a6" stroke-width="1.32"/>
<circle cx="506.70" cy="96.0" r="2.8" fill="#fff" stroke="#161616" stroke-width="1.32"/>
<circle cx="506.70" cy="89.1" r="2.8" fill="#fff" stroke="#34b454" stroke-width="1.32"/>
<circle cx="506.70" cy="100.6" r="2.8" fill="#fff" stroke="#2547a6" stroke-width="1.32"/>
<circle cx="519.94" cy="89.1" r="2.8" fill="#fff" stroke="#161616" stroke-width="1.32"/>
<circle cx="519.94" cy="80.0" r="2.8" fill="#fff" stroke="#34b454" stroke-width="1.32"/>
<circle cx="519.94" cy="90.3" r="2.8" fill="#fff" stroke="#2547a6" stroke-width="1.32"/>
<circle cx="533.18" cy="102.3" r="2.8" fill="#fff" stroke="#161616" stroke-width="1.32"/>
<circle cx="546.42" cy="97.5" r="2.8" fill="#fff" stroke="#161616" stroke-width="1.32"/>
<circle cx="559.66" cy="92.6" r="2.8" fill="#fff" stroke="#161616" stroke-width="1.32"/>
<circle cx="572.90" cy="93.8" r="2.8" fill="#fff" stroke="#161616" stroke-width="1.32"/>
<circle cx="586.14" cy="95.2" r="2.8" fill="#fff" stroke="#161616" stroke-width="1.32"/>
<circle cx="109.50" cy="233.4" r="2.8" fill="#fff" stroke="#161616" stroke-width="1.32"/>
<circle cx="109.50" cy="246.4" r="2.8" fill="#fff" stroke="#eb3a45" stroke-width="1.32"/>
<circle cx="109.50" cy="192.5" r="2.8" fill="#fff" stroke="#34b454" stroke-width="1.32"/>
<circle cx="109.50" cy="211.1" r="2.8" fill="#fff" stroke="#2547a6" stroke-width="1.32"/>
<circle cx="122.74" cy="258.2" r="2.8" fill="#fff" stroke="#161616" stroke-width="1.32"/>
<circle cx="122.74" cy="255.7" r="2.8" fill="#fff" stroke="#eb3a45" stroke-width="1.32"/>
<circle cx="122.74" cy="240.2" r="2.8" fill="#fff" stroke="#34b454" stroke-width="1.32"/>
<circle cx="122.74" cy="246.1" r="2.8" fill="#fff" stroke="#2547a6" stroke-width="1.32"/>
<circle cx="135.98" cy="257.7" r="2.8" fill="#fff" stroke="#161616" stroke-width="1.32"/>
<circle cx="135.98" cy="255.1" r="2.8" fill="#fff" stroke="#eb3a45" stroke-width="1.32"/>
<circle cx="135.98" cy="241.7" r="2.8" fill="#fff" stroke="#34b454" stroke-width="1.32"/>
<circle cx="135.98" cy="252.6" r="2.8" fill="#fff" stroke="#2547a6" stroke-width="1.32"/>
<circle cx="149.22" cy="267.5" r="2.8" fill="#fff" stroke="#161616" stroke-width="1.32"/>
<circle cx="149.22" cy="262.4" r="2.8" fill="#fff" stroke="#34b454" stroke-width="1.32"/>
<circle cx="149.22" cy="263.2" r="2.8" fill="#fff" stroke="#2547a6" stroke-width="1.32"/>
<circle cx="162.46" cy="229.0" r="2.8" fill="#fff" stroke="#161616" stroke-width="1.32"/>
<circle cx="162.46" cy="231.3" r="2.8" fill="#fff" stroke="#eb3a45" stroke-width="1.32"/>
<circle cx="162.46" cy="237.5" r="2.8" fill="#fff" stroke="#34b454" stroke-width="1.32"/>
<circle cx="162.46" cy="223.6" r="2.8" fill="#fff" stroke="#2547a6" stroke-width="1.32"/>
<circle cx="175.70" cy="217.8" r="2.8" fill="#fff" stroke="#161616" stroke-width="1.32"/>
<circle cx="175.70" cy="232.6" r="2.8" fill="#fff" stroke="#eb3a45" stroke-width="1.32"/>
<circle cx="175.70" cy="228.2" r="2.8" fill="#fff" stroke="#2547a6" stroke-width="1.32"/>
<circle cx="188.94" cy="208.0" r="2.8" fill="#fff" stroke="#161616" stroke-width="1.32"/>
<circle cx="188.94" cy="224.0" r="2.8" fill="#fff" stroke="#eb3a45" stroke-width="1.32"/>
<circle cx="188.94" cy="212.2" r="2.8" fill="#fff" stroke="#34b454" stroke-width="1.32"/>
<circle cx="188.94" cy="216.3" r="2.8" fill="#fff" stroke="#2547a6" stroke-width="1.32"/>
<circle cx="202.18" cy="195.6" r="2.8" fill="#fff" stroke="#161616" stroke-width="1.32"/>
<circle cx="202.18" cy="227.8" r="2.8" fill="#fff" stroke="#eb3a45" stroke-width="1.32"/>
<circle cx="215.42" cy="265.5" r="2.8" fill="#fff" stroke="#eb3a45" stroke-width="1.32"/>
<circle cx="215.42" cy="248.1" r="2.8" fill="#fff" stroke="#34b454" stroke-width="1.32"/>
<circle cx="215.42" cy="252.0" r="2.8" fill="#fff" stroke="#2547a6" stroke-width="1.32"/>
<circle cx="228.66" cy="247.6" r="2.8" fill="#fff" stroke="#161616" stroke-width="1.32"/>
<circle cx="228.66" cy="253.5" r="2.8" fill="#fff" stroke="#eb3a45" stroke-width="1.32"/>
<circle cx="228.66" cy="238.6" r="2.8" fill="#fff" stroke="#34b454" stroke-width="1.32"/>
<circle cx="228.66" cy="231.8" r="2.8" fill="#fff" stroke="#2547a6" stroke-width="1.32"/>
<circle cx="241.90" cy="255.1" r="2.8" fill="#fff" stroke="#161616" stroke-width="1.32"/>
<circle cx="241.90" cy="259.8" r="2.8" fill="#fff" stroke="#eb3a45" stroke-width="1.32"/>
<circle cx="241.90" cy="249.2" r="2.8" fill="#fff" stroke="#34b454" stroke-width="1.32"/>
<circle cx="241.90" cy="258.5" r="2.8" fill="#fff" stroke="#2547a6" stroke-width="1.32"/>
<circle cx="255.14" cy="249.7" r="2.8" fill="#fff" stroke="#161616" stroke-width="1.32"/>
<circle cx="255.14" cy="257.0" r="2.8" fill="#fff" stroke="#eb3a45" stroke-width="1.32"/>
<circle cx="255.14" cy="251.5" r="2.8" fill="#fff" stroke="#34b454" stroke-width="1.32"/>
<circle cx="255.14" cy="259.3" r="2.8" fill="#fff" stroke="#2547a6" stroke-width="1.32"/>
<circle cx="268.38" cy="262.4" r="2.8" fill="#fff" stroke="#161616" stroke-width="1.32"/>
<circle cx="268.38" cy="243.8" r="2.8" fill="#fff" stroke="#eb3a45" stroke-width="1.32"/>
<circle cx="268.38" cy="251.5" r="2.8" fill="#fff" stroke="#34b454" stroke-width="1.32"/>
<circle cx="268.38" cy="255.4" r="2.8" fill="#fff" stroke="#2547a6" stroke-width="1.32"/>
<circle cx="281.62" cy="261.3" r="2.8" fill="#fff" stroke="#161616" stroke-width="1.32"/>
<circle cx="281.62" cy="250.0" r="2.8" fill="#fff" stroke="#eb3a45" stroke-width="1.32"/>
<circle cx="281.62" cy="252.6" r="2.8" fill="#fff" stroke="#34b454" stroke-width="1.32"/>
<circle cx="281.62" cy="258.8" r="2.8" fill="#fff" stroke="#2547a6" stroke-width="1.32"/>
<circle cx="294.86" cy="228.7" r="2.8" fill="#fff" stroke="#161616" stroke-width="1.32"/>
<circle cx="294.86" cy="235.2" r="2.8" fill="#fff" stroke="#eb3a45" stroke-width="1.32"/>
<circle cx="294.86" cy="198.0" r="2.8" fill="#fff" stroke="#34b454" stroke-width="1.32"/>
<circle cx="294.86" cy="219.4" r="2.8" fill="#fff" stroke="#2547a6" stroke-width="1.32"/>
<circle cx="308.10" cy="240.7" r="2.8" fill="#fff" stroke="#161616" stroke-width="1.32"/>
<circle cx="308.10" cy="248.7" r="2.8" fill="#fff" stroke="#eb3a45" stroke-width="1.32"/>
<circle cx="308.10" cy="242.2" r="2.8" fill="#fff" stroke="#34b454" stroke-width="1.32"/>
<circle cx="308.10" cy="246.1" r="2.8" fill="#fff" stroke="#2547a6" stroke-width="1.32"/>
<circle cx="321.34" cy="266.3" r="2.8" fill="#fff" stroke="#161616" stroke-width="1.32"/>
<circle cx="321.34" cy="263.2" r="2.8" fill="#fff" stroke="#eb3a45" stroke-width="1.32"/>
<circle cx="321.34" cy="258.8" r="2.8" fill="#fff" stroke="#34b454" stroke-width="1.32"/>
<circle cx="321.34" cy="254.6" r="2.8" fill="#fff" stroke="#2547a6" stroke-width="1.32"/>
<circle cx="334.58" cy="267.8" r="2.8" fill="#fff" stroke="#161616" stroke-width="1.32"/>
<circle cx="334.58" cy="265.8" r="2.8" fill="#fff" stroke="#eb3a45" stroke-width="1.32"/>
<circle cx="334.58" cy="259.6" r="2.8" fill="#fff" stroke="#34b454" stroke-width="1.32"/>
<circle cx="334.58" cy="253.9" r="2.8" fill="#fff" stroke="#2547a6" stroke-width="1.32"/>
<circle cx="347.82" cy="241.4" r="2.8" fill="#fff" stroke="#161616" stroke-width="1.32"/>
<circle cx="347.82" cy="245.6" r="2.8" fill="#fff" stroke="#eb3a45" stroke-width="1.32"/>
<circle cx="347.82" cy="238.3" r="2.8" fill="#fff" stroke="#34b454" stroke-width="1.32"/>
<circle cx="347.82" cy="229.0" r="2.8" fill="#fff" stroke="#2547a6" stroke-width="1.32"/>
<circle cx="361.06" cy="233.7" r="2.8" fill="#fff" stroke="#161616" stroke-width="1.32"/>
<circle cx="361.06" cy="243.0" r="2.8" fill="#fff" stroke="#eb3a45" stroke-width="1.32"/>
<circle cx="361.06" cy="226.2" r="2.8" fill="#fff" stroke="#34b454" stroke-width="1.32"/>
<circle cx="361.06" cy="211.5" r="2.8" fill="#fff" stroke="#2547a6" stroke-width="1.32"/>
<circle cx="374.30" cy="243.0" r="2.8" fill="#fff" stroke="#161616" stroke-width="1.32"/>
<circle cx="374.30" cy="247.2" r="2.8" fill="#fff" stroke="#eb3a45" stroke-width="1.32"/>
<circle cx="374.30" cy="238.6" r="2.8" fill="#fff" stroke="#34b454" stroke-width="1.32"/>
<circle cx="374.30" cy="232.1" r="2.8" fill="#fff" stroke="#2547a6" stroke-width="1.32"/>
<circle cx="387.54" cy="245.3" r="2.8" fill="#fff" stroke="#161616" stroke-width="1.32"/>
<circle cx="387.54" cy="224.7" r="2.8" fill="#fff" stroke="#eb3a45" stroke-width="1.32"/>
<circle cx="387.54" cy="222.5" r="2.8" fill="#fff" stroke="#34b454" stroke-width="1.32"/>
<circle cx="387.54" cy="241.1" r="2.8" fill="#fff" stroke="#2547a6" stroke-width="1.32"/>
<circle cx="400.78" cy="258.0" r="2.8" fill="#fff" stroke="#161616" stroke-width="1.32"/>
<circle cx="400.78" cy="248.7" r="2.8" fill="#fff" stroke="#eb3a45" stroke-width="1.32"/>
<circle cx="400.78" cy="245.6" r="2.8" fill="#fff" stroke="#34b454" stroke-width="1.32"/>
<circle cx="400.78" cy="236.5" r="2.8" fill="#fff" stroke="#2547a6" stroke-width="1.32"/>
<circle cx="414.02" cy="260.1" r="2.8" fill="#fff" stroke="#161616" stroke-width="1.32"/>
<circle cx="414.02" cy="257.7" r="2.8" fill="#fff" stroke="#eb3a45" stroke-width="1.32"/>
<circle cx="414.02" cy="246.9" r="2.8" fill="#fff" stroke="#34b454" stroke-width="1.32"/>
<circle cx="414.02" cy="239.4" r="2.8" fill="#fff" stroke="#2547a6" stroke-width="1.32"/>
<circle cx="427.26" cy="268.1" r="2.8" fill="#fff" stroke="#eb3a45" stroke-width="1.32"/>
<circle cx="427.26" cy="262.4" r="2.8" fill="#fff" stroke="#34b454" stroke-width="1.32"/>
<circle cx="427.26" cy="264.7" r="2.8" fill="#fff" stroke="#2547a6" stroke-width="1.32"/>
<circle cx="440.50" cy="263.2" r="2.8" fill="#fff" stroke="#161616" stroke-width="1.32"/>
<circle cx="440.50" cy="248.4" r="2.8" fill="#fff" stroke="#eb3a45" stroke-width="1.32"/>
<circle cx="440.50" cy="250.7" r="2.8" fill="#fff" stroke="#34b454" stroke-width="1.32"/>
<circle cx="440.50" cy="239.6" r="2.8" fill="#fff" stroke="#2547a6" stroke-width="1.32"/>
<circle cx="453.74" cy="214.3" r="2.8" fill="#fff" stroke="#161616" stroke-width="1.32"/>
<circle cx="453.74" cy="240.7" r="2.8" fill="#fff" stroke="#eb3a45" stroke-width="1.32"/>
<circle cx="453.74" cy="218.1" r="2.8" fill="#fff" stroke="#34b454" stroke-width="1.32"/>
<circle cx="453.74" cy="238.8" r="2.8" fill="#fff" stroke="#2547a6" stroke-width="1.32"/>
<circle cx="466.98" cy="248.1" r="2.8" fill="#fff" stroke="#161616" stroke-width="1.32"/>
<circle cx="466.98" cy="242.2" r="2.8" fill="#fff" stroke="#34b454" stroke-width="1.32"/>
<circle cx="466.98" cy="245.6" r="2.8" fill="#fff" stroke="#2547a6" stroke-width="1.32"/>
<circle cx="480.22" cy="260.1" r="2.8" fill="#fff" stroke="#161616" stroke-width="1.32"/>
<circle cx="480.22" cy="261.3" r="2.8" fill="#fff" stroke="#eb3a45" stroke-width="1.32"/>
<circle cx="493.46" cy="251.5" r="2.8" fill="#fff" stroke="#161616" stroke-width="1.32"/>
<circle cx="493.46" cy="245.8" r="2.8" fill="#fff" stroke="#34b454" stroke-width="1.32"/>
<circle cx="493.46" cy="246.9" r="2.8" fill="#fff" stroke="#2547a6" stroke-width="1.32"/>
<circle cx="506.70" cy="258.5" r="2.8" fill="#fff" stroke="#161616" stroke-width="1.32"/>
<circle cx="506.70" cy="256.2" r="2.8" fill="#fff" stroke="#34b454" stroke-width="1.32"/>
<circle cx="506.70" cy="246.9" r="2.8" fill="#fff" stroke="#2547a6" stroke-width="1.32"/>
<circle cx="519.94" cy="250.4" r="2.8" fill="#fff" stroke="#161616" stroke-width="1.32"/>
<circle cx="519.94" cy="246.4" r="2.8" fill="#fff" stroke="#34b454" stroke-width="1.32"/>
<circle cx="519.94" cy="237.9" r="2.8" fill="#fff" stroke="#2547a6" stroke-width="1.32"/>
<circle cx="533.18" cy="266.3" r="2.8" fill="#fff" stroke="#161616" stroke-width="1.32"/>
<circle cx="546.42" cy="254.6" r="2.8" fill="#fff" stroke="#161616" stroke-width="1.32"/>
<circle cx="559.66" cy="259.8" r="2.8" fill="#fff" stroke="#161616" stroke-width="1.32"/>
<circle cx="572.90" cy="253.4" r="2.8" fill="#fff" stroke="#161616" stroke-width="1.32"/>
<circle cx="586.14" cy="262.9" r="2.8" fill="#fff" stroke="#161616" stroke-width="1.32"/>
<circle cx="109.50" cy="367.1" r="2.8" fill="#fff" stroke="#161616" stroke-width="1.32"/>
<circle cx="109.50" cy="371.2" r="2.8" fill="#fff" stroke="#34b454" stroke-width="1.32"/>
<circle cx="122.74" cy="384.0" r="2.8" fill="#fff" stroke="#161616" stroke-width="1.32"/>
<circle cx="122.74" cy="394.0" r="2.8" fill="#fff" stroke="#34b454" stroke-width="1.32"/>
<circle cx="135.98" cy="375.1" r="2.8" fill="#fff" stroke="#161616" stroke-width="1.32"/>
<circle cx="135.98" cy="387.5" r="2.8" fill="#fff" stroke="#34b454" stroke-width="1.32"/>
<circle cx="149.22" cy="370.6" r="2.8" fill="#fff" stroke="#161616" stroke-width="1.32"/>
<circle cx="149.22" cy="395.4" r="2.8" fill="#fff" stroke="#34b454" stroke-width="1.32"/>
<circle cx="162.46" cy="365.2" r="2.8" fill="#fff" stroke="#161616" stroke-width="1.32"/>
<circle cx="162.46" cy="373.9" r="2.8" fill="#fff" stroke="#34b454" stroke-width="1.32"/>
<circle cx="175.70" cy="362.3" r="2.8" fill="#fff" stroke="#161616" stroke-width="1.32"/>
<circle cx="175.70" cy="369.7" r="2.8" fill="#fff" stroke="#34b454" stroke-width="1.32"/>
<circle cx="188.94" cy="356.2" r="2.8" fill="#fff" stroke="#161616" stroke-width="1.32"/>
<circle cx="188.94" cy="363.0" r="2.8" fill="#fff" stroke="#34b454" stroke-width="1.32"/>
<circle cx="202.18" cy="346.0" r="2.8" fill="#fff" stroke="#161616" stroke-width="1.32"/>
<circle cx="202.18" cy="341.9" r="2.8" fill="#fff" stroke="#34b454" stroke-width="1.32"/>
<circle cx="215.42" cy="413.0" r="2.8" fill="#fff" stroke="#161616" stroke-width="1.32"/>
<circle cx="215.42" cy="412.1" r="2.8" fill="#fff" stroke="#34b454" stroke-width="1.32"/>
<circle cx="228.66" cy="380.3" r="2.8" fill="#fff" stroke="#161616" stroke-width="1.32"/>
<circle cx="228.66" cy="379.2" r="2.8" fill="#fff" stroke="#34b454" stroke-width="1.32"/>
<circle cx="241.90" cy="390.5" r="2.8" fill="#fff" stroke="#161616" stroke-width="1.32"/>
<circle cx="241.90" cy="386.0" r="2.8" fill="#fff" stroke="#34b454" stroke-width="1.32"/>
<circle cx="255.14" cy="384.5" r="2.8" fill="#fff" stroke="#161616" stroke-width="1.32"/>
<circle cx="255.14" cy="388.7" r="2.8" fill="#fff" stroke="#34b454" stroke-width="1.32"/>
<circle cx="268.38" cy="389.5" r="2.8" fill="#fff" stroke="#161616" stroke-width="1.32"/>
<circle cx="268.38" cy="389.5" r="2.8" fill="#fff" stroke="#34b454" stroke-width="1.32"/>
<circle cx="281.62" cy="375.1" r="2.8" fill="#fff" stroke="#161616" stroke-width="1.32"/>
<circle cx="281.62" cy="379.2" r="2.8" fill="#fff" stroke="#34b454" stroke-width="1.32"/>
<circle cx="294.86" cy="367.9" r="2.8" fill="#fff" stroke="#161616" stroke-width="1.32"/>
<circle cx="294.86" cy="359.6" r="2.8" fill="#fff" stroke="#34b454" stroke-width="1.32"/>
<circle cx="308.10" cy="367.1" r="2.8" fill="#fff" stroke="#161616" stroke-width="1.32"/>
<circle cx="308.10" cy="374.4" r="2.8" fill="#fff" stroke="#34b454" stroke-width="1.32"/>
<circle cx="321.34" cy="367.1" r="2.8" fill="#fff" stroke="#161616" stroke-width="1.32"/>
<circle cx="321.34" cy="396.3" r="2.8" fill="#fff" stroke="#34b454" stroke-width="1.32"/>
<circle cx="334.58" cy="374.4" r="2.8" fill="#fff" stroke="#161616" stroke-width="1.32"/>
<circle cx="334.58" cy="402.3" r="2.8" fill="#fff" stroke="#34b454" stroke-width="1.32"/>
<circle cx="347.82" cy="361.8" r="2.8" fill="#fff" stroke="#161616" stroke-width="1.32"/>
<circle cx="347.82" cy="381.5" r="2.8" fill="#fff" stroke="#34b454" stroke-width="1.32"/>
<circle cx="361.06" cy="363.6" r="2.8" fill="#fff" stroke="#161616" stroke-width="1.32"/>
<circle cx="361.06" cy="383.0" r="2.8" fill="#fff" stroke="#34b454" stroke-width="1.32"/>
<circle cx="374.30" cy="363.8" r="2.8" fill="#fff" stroke="#161616" stroke-width="1.32"/>
<circle cx="374.30" cy="371.6" r="2.8" fill="#fff" stroke="#34b454" stroke-width="1.32"/>
<circle cx="387.54" cy="358.1" r="2.8" fill="#fff" stroke="#161616" stroke-width="1.32"/>
<circle cx="387.54" cy="378.1" r="2.8" fill="#fff" stroke="#34b454" stroke-width="1.32"/>
<circle cx="400.78" cy="375.1" r="2.8" fill="#fff" stroke="#161616" stroke-width="1.32"/>
<circle cx="400.78" cy="403.8" r="2.8" fill="#fff" stroke="#34b454" stroke-width="1.32"/>
<circle cx="414.02" cy="389.8" r="2.8" fill="#fff" stroke="#161616" stroke-width="1.32"/>
<circle cx="414.02" cy="398.5" r="2.8" fill="#fff" stroke="#34b454" stroke-width="1.32"/>
<circle cx="427.26" cy="363.8" r="2.8" fill="#fff" stroke="#161616" stroke-width="1.32"/>
<circle cx="427.26" cy="397.6" r="2.8" fill="#fff" stroke="#34b454" stroke-width="1.32"/>
<circle cx="440.50" cy="387.2" r="2.8" fill="#fff" stroke="#34b454" stroke-width="1.32"/>
<circle cx="453.74" cy="371.3" r="2.8" fill="#fff" stroke="#34b454" stroke-width="1.32"/>
<circle cx="466.98" cy="375.7" r="2.8" fill="#fff" stroke="#161616" stroke-width="1.32"/>
<circle cx="466.98" cy="393.1" r="2.8" fill="#fff" stroke="#34b454" stroke-width="1.32"/>
<circle cx="493.46" cy="393.5" r="2.8" fill="#fff" stroke="#34b454" stroke-width="1.32"/>
<circle cx="506.70" cy="389.5" r="2.8" fill="#fff" stroke="#161616" stroke-width="1.32"/>
<circle cx="506.70" cy="397.3" r="2.8" fill="#fff" stroke="#34b454" stroke-width="1.32"/>
<circle cx="519.94" cy="389.0" r="2.8" fill="#fff" stroke="#161616" stroke-width="1.32"/>
<circle cx="519.94" cy="389.0" r="2.8" fill="#fff" stroke="#34b454" stroke-width="1.32"/>
<circle cx="109.50" cy="553.7" r="2.8" fill="#fff" stroke="#eb3a45" stroke-width="1.32"/>
<circle cx="109.50" cy="550.2" r="2.8" fill="#fff" stroke="#34b454" stroke-width="1.32"/>
<circle cx="109.50" cy="555.0" r="2.8" fill="#fff" stroke="#2547a6" stroke-width="1.32"/>
<circle cx="122.74" cy="555.8" r="2.8" fill="#fff" stroke="#161616" stroke-width="1.32"/>
<circle cx="122.74" cy="548.6" r="2.8" fill="#fff" stroke="#eb3a45" stroke-width="1.32"/>
<circle cx="122.74" cy="543.6" r="2.8" fill="#fff" stroke="#34b454" stroke-width="1.32"/>
<circle cx="122.74" cy="546.7" r="2.8" fill="#fff" stroke="#2547a6" stroke-width="1.32"/>
<circle cx="135.98" cy="520.7" r="2.8" fill="#fff" stroke="#161616" stroke-width="1.32"/>
<circle cx="135.98" cy="524.2" r="2.8" fill="#fff" stroke="#eb3a45" stroke-width="1.32"/>
<circle cx="135.98" cy="526.6" r="2.8" fill="#fff" stroke="#34b454" stroke-width="1.32"/>
<circle cx="135.98" cy="534.6" r="2.8" fill="#fff" stroke="#2547a6" stroke-width="1.32"/>
<circle cx="149.22" cy="529.7" r="2.8" fill="#fff" stroke="#161616" stroke-width="1.32"/>
<circle cx="149.22" cy="523.8" r="2.8" fill="#fff" stroke="#eb3a45" stroke-width="1.32"/>
<circle cx="149.22" cy="532.0" r="2.8" fill="#fff" stroke="#34b454" stroke-width="1.32"/>
<circle cx="149.22" cy="550.6" r="2.8" fill="#fff" stroke="#2547a6" stroke-width="1.32"/>
<circle cx="162.46" cy="498.6" r="2.8" fill="#fff" stroke="#161616" stroke-width="1.32"/>
<circle cx="162.46" cy="488.2" r="2.8" fill="#fff" stroke="#eb3a45" stroke-width="1.32"/>
<circle cx="162.46" cy="506.8" r="2.8" fill="#fff" stroke="#34b454" stroke-width="1.32"/>
<circle cx="162.46" cy="528.1" r="2.8" fill="#fff" stroke="#2547a6" stroke-width="1.32"/>
<circle cx="175.70" cy="515.7" r="2.8" fill="#fff" stroke="#161616" stroke-width="1.32"/>
<circle cx="175.70" cy="503.3" r="2.8" fill="#fff" stroke="#eb3a45" stroke-width="1.32"/>
<circle cx="175.70" cy="523.9" r="2.8" fill="#fff" stroke="#34b454" stroke-width="1.32"/>
<circle cx="175.70" cy="541.8" r="2.8" fill="#fff" stroke="#2547a6" stroke-width="1.32"/>
<circle cx="188.94" cy="506.1" r="2.8" fill="#fff" stroke="#161616" stroke-width="1.32"/>
<circle cx="188.94" cy="495.0" r="2.8" fill="#fff" stroke="#eb3a45" stroke-width="1.32"/>
<circle cx="188.94" cy="516.5" r="2.8" fill="#fff" stroke="#34b454" stroke-width="1.32"/>
<circle cx="188.94" cy="528.6" r="2.8" fill="#fff" stroke="#2547a6" stroke-width="1.32"/>
<circle cx="202.18" cy="504.4" r="2.8" fill="#fff" stroke="#161616" stroke-width="1.32"/>
<circle cx="202.18" cy="495.8" r="2.8" fill="#fff" stroke="#eb3a45" stroke-width="1.32"/>
<circle cx="202.18" cy="479.5" r="2.8" fill="#fff" stroke="#34b454" stroke-width="1.32"/>
<circle cx="202.18" cy="482.6" r="2.8" fill="#fff" stroke="#2547a6" stroke-width="1.32"/>
<circle cx="215.42" cy="520.3" r="2.8" fill="#fff" stroke="#161616" stroke-width="1.32"/>
<circle cx="215.42" cy="518.3" r="2.8" fill="#fff" stroke="#eb3a45" stroke-width="1.32"/>
<circle cx="215.42" cy="532.5" r="2.8" fill="#fff" stroke="#34b454" stroke-width="1.32"/>
<circle cx="215.42" cy="539.4" r="2.8" fill="#fff" stroke="#2547a6" stroke-width="1.32"/>
<circle cx="228.66" cy="533.1" r="2.8" fill="#fff" stroke="#161616" stroke-width="1.32"/>
<circle cx="228.66" cy="522.7" r="2.8" fill="#fff" stroke="#eb3a45" stroke-width="1.32"/>
<circle cx="228.66" cy="515.4" r="2.8" fill="#fff" stroke="#34b454" stroke-width="1.32"/>
<circle cx="228.66" cy="529.7" r="2.8" fill="#fff" stroke="#2547a6" stroke-width="1.32"/>
<circle cx="241.90" cy="526.6" r="2.8" fill="#fff" stroke="#161616" stroke-width="1.32"/>
<circle cx="241.90" cy="519.6" r="2.8" fill="#fff" stroke="#eb3a45" stroke-width="1.32"/>
<circle cx="241.90" cy="525.0" r="2.8" fill="#fff" stroke="#34b454" stroke-width="1.32"/>
<circle cx="241.90" cy="535.1" r="2.8" fill="#fff" stroke="#2547a6" stroke-width="1.32"/>
<circle cx="255.14" cy="505.1" r="2.8" fill="#fff" stroke="#161616" stroke-width="1.32"/>
<circle cx="255.14" cy="513.8" r="2.8" fill="#fff" stroke="#eb3a45" stroke-width="1.32"/>
<circle cx="255.14" cy="526.9" r="2.8" fill="#fff" stroke="#34b454" stroke-width="1.32"/>
<circle cx="255.14" cy="533.9" r="2.8" fill="#fff" stroke="#2547a6" stroke-width="1.32"/>
<circle cx="268.38" cy="512.3" r="2.8" fill="#fff" stroke="#161616" stroke-width="1.32"/>
<circle cx="268.38" cy="528.4" r="2.8" fill="#fff" stroke="#eb3a45" stroke-width="1.32"/>
<circle cx="268.38" cy="530.9" r="2.8" fill="#fff" stroke="#34b454" stroke-width="1.32"/>
<circle cx="268.38" cy="542.6" r="2.8" fill="#fff" stroke="#2547a6" stroke-width="1.32"/>
<circle cx="281.62" cy="527.6" r="2.8" fill="#fff" stroke="#161616" stroke-width="1.32"/>
<circle cx="281.62" cy="536.7" r="2.8" fill="#fff" stroke="#eb3a45" stroke-width="1.32"/>
<circle cx="281.62" cy="533.2" r="2.8" fill="#fff" stroke="#34b454" stroke-width="1.32"/>
<circle cx="281.62" cy="539.8" r="2.8" fill="#fff" stroke="#2547a6" stroke-width="1.32"/>
<circle cx="294.86" cy="537.7" r="2.8" fill="#fff" stroke="#161616" stroke-width="1.32"/>
<circle cx="294.86" cy="535.1" r="2.8" fill="#fff" stroke="#eb3a45" stroke-width="1.32"/>
<circle cx="294.86" cy="529.7" r="2.8" fill="#fff" stroke="#34b454" stroke-width="1.32"/>
<circle cx="294.86" cy="540.8" r="2.8" fill="#fff" stroke="#2547a6" stroke-width="1.32"/>
<circle cx="308.10" cy="497.8" r="2.8" fill="#fff" stroke="#161616" stroke-width="1.32"/>
<circle cx="308.10" cy="504.5" r="2.8" fill="#fff" stroke="#eb3a45" stroke-width="1.32"/>
<circle cx="308.10" cy="511.8" r="2.8" fill="#fff" stroke="#34b454" stroke-width="1.32"/>
<circle cx="308.10" cy="516.9" r="2.8" fill="#fff" stroke="#2547a6" stroke-width="1.32"/>
<circle cx="321.34" cy="539.0" r="2.8" fill="#fff" stroke="#161616" stroke-width="1.32"/>
<circle cx="321.34" cy="542.6" r="2.8" fill="#fff" stroke="#eb3a45" stroke-width="1.32"/>
<circle cx="321.34" cy="555.8" r="2.8" fill="#fff" stroke="#34b454" stroke-width="1.32"/>
<circle cx="321.34" cy="558.9" r="2.8" fill="#fff" stroke="#2547a6" stroke-width="1.32"/>
<circle cx="334.58" cy="546.4" r="2.8" fill="#fff" stroke="#161616" stroke-width="1.32"/>
<circle cx="334.58" cy="543.2" r="2.8" fill="#fff" stroke="#eb3a45" stroke-width="1.32"/>
<circle cx="334.58" cy="556.1" r="2.8" fill="#fff" stroke="#34b454" stroke-width="1.32"/>
<circle cx="334.58" cy="551.1" r="2.8" fill="#fff" stroke="#2547a6" stroke-width="1.32"/>
<circle cx="347.82" cy="520.3" r="2.8" fill="#fff" stroke="#161616" stroke-width="1.32"/>
<circle cx="347.82" cy="504.5" r="2.8" fill="#fff" stroke="#eb3a45" stroke-width="1.32"/>
<circle cx="347.82" cy="515.2" r="2.8" fill="#fff" stroke="#34b454" stroke-width="1.32"/>
<circle cx="347.82" cy="526.1" r="2.8" fill="#fff" stroke="#2547a6" stroke-width="1.32"/>
<circle cx="361.06" cy="498.6" r="2.8" fill="#fff" stroke="#161616" stroke-width="1.32"/>
<circle cx="361.06" cy="500.2" r="2.8" fill="#fff" stroke="#eb3a45" stroke-width="1.32"/>
<circle cx="361.06" cy="504.0" r="2.8" fill="#fff" stroke="#34b454" stroke-width="1.32"/>
<circle cx="361.06" cy="526.1" r="2.8" fill="#fff" stroke="#2547a6" stroke-width="1.32"/>
<circle cx="374.30" cy="512.3" r="2.8" fill="#fff" stroke="#161616" stroke-width="1.32"/>
<circle cx="374.30" cy="496.6" r="2.8" fill="#fff" stroke="#eb3a45" stroke-width="1.32"/>
<circle cx="374.30" cy="519.9" r="2.8" fill="#fff" stroke="#34b454" stroke-width="1.32"/>
<circle cx="374.30" cy="515.7" r="2.8" fill="#fff" stroke="#2547a6" stroke-width="1.32"/>
<circle cx="387.54" cy="535.6" r="2.8" fill="#fff" stroke="#161616" stroke-width="1.32"/>
<circle cx="387.54" cy="531.7" r="2.8" fill="#fff" stroke="#eb3a45" stroke-width="1.32"/>
<circle cx="387.54" cy="534.3" r="2.8" fill="#fff" stroke="#34b454" stroke-width="1.32"/>
<circle cx="387.54" cy="545.2" r="2.8" fill="#fff" stroke="#2547a6" stroke-width="1.32"/>
<circle cx="400.78" cy="542.6" r="2.8" fill="#fff" stroke="#161616" stroke-width="1.32"/>
<circle cx="400.78" cy="513.4" r="2.8" fill="#fff" stroke="#eb3a45" stroke-width="1.32"/>
<circle cx="400.78" cy="522.7" r="2.8" fill="#fff" stroke="#34b454" stroke-width="1.32"/>
<circle cx="400.78" cy="518.5" r="2.8" fill="#fff" stroke="#2547a6" stroke-width="1.32"/>
<circle cx="414.02" cy="532.3" r="2.8" fill="#fff" stroke="#161616" stroke-width="1.32"/>
<circle cx="414.02" cy="528.6" r="2.8" fill="#fff" stroke="#eb3a45" stroke-width="1.32"/>
<circle cx="414.02" cy="517.7" r="2.8" fill="#fff" stroke="#34b454" stroke-width="1.32"/>
<circle cx="414.02" cy="526.2" r="2.8" fill="#fff" stroke="#2547a6" stroke-width="1.32"/>
<circle cx="427.26" cy="511.5" r="2.8" fill="#fff" stroke="#161616" stroke-width="1.32"/>
<circle cx="427.26" cy="514.9" r="2.8" fill="#fff" stroke="#eb3a45" stroke-width="1.32"/>
<circle cx="427.26" cy="525.5" r="2.8" fill="#fff" stroke="#34b454" stroke-width="1.32"/>
<circle cx="427.26" cy="543.2" r="2.8" fill="#fff" stroke="#2547a6" stroke-width="1.32"/>
<circle cx="440.50" cy="564.1" r="2.8" fill="#fff" stroke="#161616" stroke-width="1.32"/>
<circle cx="440.50" cy="549.5" r="2.8" fill="#fff" stroke="#eb3a45" stroke-width="1.32"/>
<circle cx="440.50" cy="566.2" r="2.8" fill="#fff" stroke="#34b454" stroke-width="1.32"/>
<circle cx="440.50" cy="557.1" r="2.8" fill="#fff" stroke="#2547a6" stroke-width="1.32"/>
<circle cx="453.74" cy="536.7" r="2.8" fill="#fff" stroke="#161616" stroke-width="1.32"/>
<circle cx="453.74" cy="513.8" r="2.8" fill="#fff" stroke="#eb3a45" stroke-width="1.32"/>
<circle cx="453.74" cy="517.2" r="2.8" fill="#fff" stroke="#34b454" stroke-width="1.32"/>
<circle cx="453.74" cy="522.2" r="2.8" fill="#fff" stroke="#2547a6" stroke-width="1.32"/>
<circle cx="466.98" cy="504.8" r="2.8" fill="#fff" stroke="#eb3a45" stroke-width="1.32"/>
<circle cx="466.98" cy="535.6" r="2.8" fill="#fff" stroke="#34b454" stroke-width="1.32"/>
<circle cx="466.98" cy="531.2" r="2.8" fill="#fff" stroke="#2547a6" stroke-width="1.32"/>
<circle cx="480.22" cy="539.0" r="2.8" fill="#fff" stroke="#161616" stroke-width="1.32"/>
<circle cx="480.22" cy="533.1" r="2.8" fill="#fff" stroke="#eb3a45" stroke-width="1.32"/>
<circle cx="493.46" cy="514.6" r="2.8" fill="#fff" stroke="#161616" stroke-width="1.32"/>
<circle cx="493.46" cy="511.3" r="2.8" fill="#fff" stroke="#34b454" stroke-width="1.32"/>
<circle cx="493.46" cy="526.6" r="2.8" fill="#fff" stroke="#2547a6" stroke-width="1.32"/>
<circle cx="506.70" cy="540.5" r="2.8" fill="#fff" stroke="#34b454" stroke-width="1.32"/>
<circle cx="506.70" cy="536.7" r="2.8" fill="#fff" stroke="#2547a6" stroke-width="1.32"/>
<circle cx="519.94" cy="554.8" r="2.8" fill="#fff" stroke="#161616" stroke-width="1.32"/>
<circle cx="519.94" cy="541.3" r="2.8" fill="#fff" stroke="#34b454" stroke-width="1.32"/>
<circle cx="519.94" cy="551.1" r="2.8" fill="#fff" stroke="#2547a6" stroke-width="1.32"/>
<circle cx="533.18" cy="527.6" r="2.8" fill="#fff" stroke="#161616" stroke-width="1.32"/>
<circle cx="546.42" cy="555.6" r="2.8" fill="#fff" stroke="#161616" stroke-width="1.32"/>
<circle cx="559.66" cy="533.1" r="2.8" fill="#fff" stroke="#161616" stroke-width="1.32"/>
<circle cx="572.90" cy="555.6" r="2.8" fill="#fff" stroke="#161616" stroke-width="1.32"/>
<circle cx="586.14" cy="499.1" r="2.8" fill="#fff" stroke="#161616" stroke-width="1.32"/>
<line x1="63.9" y1="82.2" x2="63.9" y2="103.4" stroke="#161616" stroke-width="1.5"/>
<line x1="62.0" y1="82.2" x2="65.8" y2="82.2" stroke="#161616" stroke-width="1.3"/>
<line x1="62.0" y1="103.4" x2="65.8" y2="103.4" stroke="#161616" stroke-width="1.3"/>
<rect x="60.5" y="75.69999999999999" width="6.8" height="6.8" fill="#161616"/>
<path d="M63.9 67.1 L68.4 74.9 L59.4 74.9Z" fill="#161616"/>
<circle cx="63.9" cy="92.8" r="3.5" fill="#161616"/>
<line x1="74.4" y1="80.8" x2="74.4" y2="100.7" stroke="#eb3a45" stroke-width="1.5"/>
<line x1="72.5" y1="80.8" x2="76.30000000000001" y2="80.8" stroke="#eb3a45" stroke-width="1.3"/>
<line x1="72.5" y1="100.7" x2="76.30000000000001" y2="100.7" stroke="#eb3a45" stroke-width="1.3"/>
<rect x="71.0" y="51.800000000000004" width="6.8" height="6.8" fill="#eb3a45"/>
<path d="M74.4 64.8 L78.9 72.6 L69.9 72.6Z" fill="#eb3a45"/>
<circle cx="74.4" cy="91.4" r="3.5" fill="#eb3a45"/>
<line x1="85.1" y1="51.4" x2="85.1" y2="112.1" stroke="#34b454" stroke-width="1.5"/>
<line x1="83.19999999999999" y1="51.4" x2="87.0" y2="51.4" stroke="#34b454" stroke-width="1.3"/>
<line x1="83.19999999999999" y1="112.1" x2="87.0" y2="112.1" stroke="#34b454" stroke-width="1.3"/>
<rect x="81.69999999999999" y="42.1" width="6.8" height="6.8" fill="#34b454"/>
<path d="M85.1 52.5 L89.6 61.4 L80.6 61.4Z" fill="#34b454"/>
<circle cx="85.1" cy="82.3" r="3.5" fill="#34b454"/>
<line x1="95.6" y1="78.2" x2="95.6" y2="107.4" stroke="#2547a6" stroke-width="1.5"/>
<line x1="93.69999999999999" y1="78.2" x2="97.5" y2="78.2" stroke="#2547a6" stroke-width="1.3"/>
<line x1="93.69999999999999" y1="107.4" x2="97.5" y2="107.4" stroke="#2547a6" stroke-width="1.3"/>
<rect x="92.19999999999999" y="73.3" width="6.8" height="6.8" fill="#2547a6"/>
<path d="M95.6 72 L100.1 80 L91.1 80Z" fill="#2547a6"/>
<circle cx="95.6" cy="92.8" r="3.5" fill="#2547a6"/>
<line x1="63.9" y1="231.6" x2="63.9" y2="266.0" stroke="#161616" stroke-width="1.5"/>
<line x1="62.0" y1="231.6" x2="65.8" y2="231.6" stroke="#161616" stroke-width="1.3"/>
<line x1="62.0" y1="266.0" x2="65.8" y2="266.0" stroke="#161616" stroke-width="1.3"/>
<rect x="60.5" y="220.9" width="6.8" height="6.8" fill="#161616"/>
<path d="M63.9 226.0 L68.4 232.5 L59.4 232.5Z" fill="#161616"/>
<circle cx="63.9" cy="248.8" r="3.5" fill="#161616"/>
<line x1="74.5" y1="235.9" x2="74.5" y2="261.0" stroke="#eb3a45" stroke-width="1.5"/>
<line x1="72.6" y1="235.9" x2="76.4" y2="235.9" stroke="#eb3a45" stroke-width="1.3"/>
<line x1="72.6" y1="261.0" x2="76.4" y2="261.0" stroke="#eb3a45" stroke-width="1.3"/>
<rect x="71.1" y="221.2" width="6.8" height="6.8" fill="#eb3a45"/>
<path d="M74.5 222 L79.0 229.7 L70.0 229.7Z" fill="#eb3a45"/>
<circle cx="74.5" cy="249.0" r="3.5" fill="#eb3a45"/>
<line x1="85.0" y1="205.4" x2="85.0" y2="265.9" stroke="#34b454" stroke-width="1.5"/>
<line x1="83.1" y1="205.4" x2="86.9" y2="205.4" stroke="#34b454" stroke-width="1.3"/>
<line x1="83.1" y1="265.9" x2="86.9" y2="265.9" stroke="#34b454" stroke-width="1.3"/>
<rect x="81.6" y="220.6" width="6.8" height="6.8" fill="#34b454"/>
<path d="M85.0 219.6 L89.5 227.5 L80.5 227.5Z" fill="#34b454"/>
<circle cx="85.0" cy="235.9" r="3.5" fill="#34b454"/>
<line x1="95.5" y1="217.4" x2="95.5" y2="259.5" stroke="#2547a6" stroke-width="1.5"/>
<line x1="93.6" y1="217.4" x2="97.4" y2="217.4" stroke="#2547a6" stroke-width="1.3"/>
<line x1="93.6" y1="259.5" x2="97.4" y2="259.5" stroke="#2547a6" stroke-width="1.3"/>
<rect x="92.1" y="221.6" width="6.8" height="6.8" fill="#2547a6"/>
<path d="M95.5 222.5 L100.0 230.5 L91.0 230.5Z" fill="#2547a6"/>
<circle cx="95.5" cy="239.1" r="3.5" fill="#2547a6"/>
<line x1="74.5" y1="360.9" x2="74.5" y2="388.5" stroke="#161616" stroke-width="1.5"/>
<line x1="72.6" y1="360.9" x2="76.4" y2="360.9" stroke="#161616" stroke-width="1.3"/>
<line x1="72.6" y1="388.5" x2="76.4" y2="388.5" stroke="#161616" stroke-width="1.3"/>
<rect x="71.1" y="354.8" width="6.8" height="6.8" fill="#161616"/>
<path d="M74.5 352.3 L79.0 361.1 L70.0 361.1Z" fill="#161616"/>
<circle cx="74.5" cy="374.7" r="3.5" fill="#161616"/>
<line x1="85.4" y1="370.7" x2="85.4" y2="398.9" stroke="#34b454" stroke-width="1.5"/>
<line x1="83.5" y1="370.7" x2="87.30000000000001" y2="370.7" stroke="#34b454" stroke-width="1.3"/>
<line x1="83.5" y1="398.9" x2="87.30000000000001" y2="398.9" stroke="#34b454" stroke-width="1.3"/>
<rect x="82.0" y="361.20000000000005" width="6.8" height="6.8" fill="#34b454"/>
<path d="M85.4 360.5 L89.9 368.6 L80.9 368.6Z" fill="#34b454"/>
<circle cx="85.4" cy="384.8" r="3.5" fill="#34b454"/>
<line x1="63.7" y1="509.3" x2="63.7" y2="546.7" stroke="#161616" stroke-width="1.5"/>
<line x1="61.800000000000004" y1="509.3" x2="65.60000000000001" y2="509.3" stroke="#161616" stroke-width="1.3"/>
<line x1="61.800000000000004" y1="546.7" x2="65.60000000000001" y2="546.7" stroke="#161616" stroke-width="1.3"/>
<rect x="60.300000000000004" y="522.6" width="6.8" height="6.8" fill="#161616"/>
<path d="M63.7 524.0 L68.2 531.0 L59.2 531.0Z" fill="#161616"/>
<circle cx="63.7" cy="528.0" r="3.5" fill="#161616"/>
<line x1="74.6" y1="503.9" x2="74.6" y2="538.1" stroke="#eb3a45" stroke-width="1.5"/>
<line x1="72.69999999999999" y1="503.9" x2="76.5" y2="503.9" stroke="#eb3a45" stroke-width="1.3"/>
<line x1="72.69999999999999" y1="538.1" x2="76.5" y2="538.1" stroke="#eb3a45" stroke-width="1.3"/>
<rect x="71.19999999999999" y="509.20000000000005" width="6.8" height="6.8" fill="#eb3a45"/>
<path d="M74.6 501.6 L79.1 509.6 L70.1 509.6Z" fill="#eb3a45"/>
<circle cx="74.6" cy="521.0" r="3.5" fill="#eb3a45"/>
<line x1="85.0" y1="511.5" x2="85.0" y2="544.5" stroke="#34b454" stroke-width="1.5"/>
<line x1="83.1" y1="511.5" x2="86.9" y2="511.5" stroke="#34b454" stroke-width="1.3"/>
<line x1="83.1" y1="544.5" x2="86.9" y2="544.5" stroke="#34b454" stroke-width="1.3"/>
<rect x="81.6" y="505.6" width="6.8" height="6.8" fill="#34b454"/>
<path d="M85.0 504.1 L89.5 513.3 L80.5 513.3Z" fill="#34b454"/>
<circle cx="85.0" cy="528.0" r="3.5" fill="#34b454"/>
<line x1="95.4" y1="520.6" x2="95.4" y2="550.0" stroke="#2547a6" stroke-width="1.5"/>
<line x1="93.5" y1="520.6" x2="97.30000000000001" y2="520.6" stroke="#2547a6" stroke-width="1.3"/>
<line x1="93.5" y1="550.0" x2="97.30000000000001" y2="550.0" stroke="#2547a6" stroke-width="1.3"/>
<rect x="92.0" y="526.1" width="6.8" height="6.8" fill="#2547a6"/>
<path d="M95.4 519.4 L99.9 526.7 L90.9 526.7Z" fill="#2547a6"/>
<circle cx="95.4" cy="535.3" r="3.5" fill="#2547a6"/>
</svg></body></html>
